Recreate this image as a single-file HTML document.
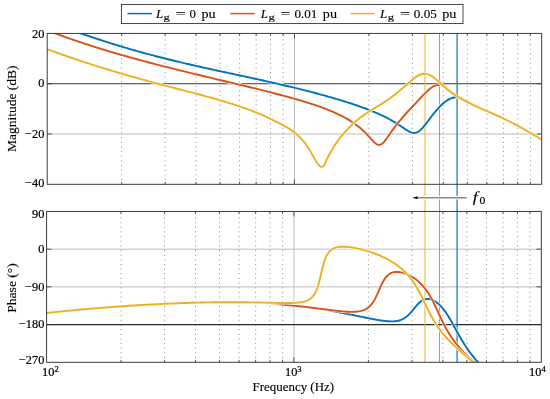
<!DOCTYPE html>
<html lang="en"><head><meta charset="utf-8"><title>Bode plot</title>
<style>html,body{margin:0;padding:0;background:#fff;overflow:hidden}svg{display:block}text{font-family:"Liberation Serif","DejaVu Serif",serif;fill:#000;stroke:#000;stroke-width:0.12px}.tk{stroke-width:0.22px}</style></head><body>
<svg width="550" height="399" viewBox="0 0 550 399">
<rect width="550" height="399" fill="#fff"/>
<defs>
<clipPath id="ct"><rect x="47.20" y="33.40" width="494.50" height="150.90"/></clipPath>
<clipPath id="cb"><rect x="46.60" y="211.45" width="494.70" height="150.85"/></clipPath>
</defs>
<line x1="121.63" y1="33.40" x2="121.63" y2="184.30" stroke="#505050" stroke-width="0.68" stroke-dasharray="1 3.65" stroke-dashoffset="-1.40"/>
<line x1="165.17" y1="33.40" x2="165.17" y2="184.30" stroke="#505050" stroke-width="0.68" stroke-dasharray="1 3.65" stroke-dashoffset="-1.40"/>
<line x1="196.06" y1="33.40" x2="196.06" y2="184.30" stroke="#505050" stroke-width="0.68" stroke-dasharray="1 3.65" stroke-dashoffset="-1.40"/>
<line x1="220.02" y1="33.40" x2="220.02" y2="184.30" stroke="#505050" stroke-width="0.68" stroke-dasharray="1 3.65" stroke-dashoffset="-1.40"/>
<line x1="239.60" y1="33.40" x2="239.60" y2="184.30" stroke="#505050" stroke-width="0.68" stroke-dasharray="1 3.65" stroke-dashoffset="-1.40"/>
<line x1="256.15" y1="33.40" x2="256.15" y2="184.30" stroke="#505050" stroke-width="0.68" stroke-dasharray="1 3.65" stroke-dashoffset="-1.40"/>
<line x1="270.49" y1="33.40" x2="270.49" y2="184.30" stroke="#505050" stroke-width="0.68" stroke-dasharray="1 3.65" stroke-dashoffset="-1.40"/>
<line x1="283.14" y1="33.40" x2="283.14" y2="184.30" stroke="#505050" stroke-width="0.68" stroke-dasharray="1 3.65" stroke-dashoffset="-1.40"/>
<line x1="368.88" y1="33.40" x2="368.88" y2="184.30" stroke="#505050" stroke-width="0.68" stroke-dasharray="1 3.65" stroke-dashoffset="-1.40"/>
<line x1="412.42" y1="33.40" x2="412.42" y2="184.30" stroke="#505050" stroke-width="0.68" stroke-dasharray="1 3.65" stroke-dashoffset="-1.40"/>
<line x1="443.31" y1="33.40" x2="443.31" y2="184.30" stroke="#505050" stroke-width="0.68" stroke-dasharray="1 3.65" stroke-dashoffset="-1.40"/>
<line x1="467.27" y1="33.40" x2="467.27" y2="184.30" stroke="#505050" stroke-width="0.68" stroke-dasharray="1 3.65" stroke-dashoffset="-1.40"/>
<line x1="486.85" y1="33.40" x2="486.85" y2="184.30" stroke="#505050" stroke-width="0.68" stroke-dasharray="1 3.65" stroke-dashoffset="-1.40"/>
<line x1="503.40" y1="33.40" x2="503.40" y2="184.30" stroke="#505050" stroke-width="0.68" stroke-dasharray="1 3.65" stroke-dashoffset="-1.40"/>
<line x1="517.74" y1="33.40" x2="517.74" y2="184.30" stroke="#505050" stroke-width="0.68" stroke-dasharray="1 3.65" stroke-dashoffset="-1.40"/>
<line x1="530.39" y1="33.40" x2="530.39" y2="184.30" stroke="#505050" stroke-width="0.68" stroke-dasharray="1 3.65" stroke-dashoffset="-1.40"/>
<line x1="294.45" y1="33.40" x2="294.45" y2="184.30" stroke="#8a8a8a" stroke-width="0.6"/>
<line x1="47.20" y1="134.00" x2="541.70" y2="134.00" stroke="#bcbcbc" stroke-width="1.0"/>
<line x1="47.20" y1="83.70" x2="541.70" y2="83.70" stroke="#3a3a3a" stroke-width="1.10"/>
<line x1="121.06" y1="211.45" x2="121.06" y2="362.30" stroke="#505050" stroke-width="0.68" stroke-dasharray="1 3.65" stroke-dashoffset="-1.40"/>
<line x1="164.62" y1="211.45" x2="164.62" y2="362.30" stroke="#505050" stroke-width="0.68" stroke-dasharray="1 3.65" stroke-dashoffset="-1.40"/>
<line x1="195.52" y1="211.45" x2="195.52" y2="362.30" stroke="#505050" stroke-width="0.68" stroke-dasharray="1 3.65" stroke-dashoffset="-1.40"/>
<line x1="219.49" y1="211.45" x2="219.49" y2="362.30" stroke="#505050" stroke-width="0.68" stroke-dasharray="1 3.65" stroke-dashoffset="-1.40"/>
<line x1="239.08" y1="211.45" x2="239.08" y2="362.30" stroke="#505050" stroke-width="0.68" stroke-dasharray="1 3.65" stroke-dashoffset="-1.40"/>
<line x1="255.64" y1="211.45" x2="255.64" y2="362.30" stroke="#505050" stroke-width="0.68" stroke-dasharray="1 3.65" stroke-dashoffset="-1.40"/>
<line x1="269.98" y1="211.45" x2="269.98" y2="362.30" stroke="#505050" stroke-width="0.68" stroke-dasharray="1 3.65" stroke-dashoffset="-1.40"/>
<line x1="282.63" y1="211.45" x2="282.63" y2="362.30" stroke="#505050" stroke-width="0.68" stroke-dasharray="1 3.65" stroke-dashoffset="-1.40"/>
<line x1="368.41" y1="211.45" x2="368.41" y2="362.30" stroke="#505050" stroke-width="0.68" stroke-dasharray="1 3.65" stroke-dashoffset="-1.40"/>
<line x1="411.97" y1="211.45" x2="411.97" y2="362.30" stroke="#505050" stroke-width="0.68" stroke-dasharray="1 3.65" stroke-dashoffset="-1.40"/>
<line x1="442.87" y1="211.45" x2="442.87" y2="362.30" stroke="#505050" stroke-width="0.68" stroke-dasharray="1 3.65" stroke-dashoffset="-1.40"/>
<line x1="466.84" y1="211.45" x2="466.84" y2="362.30" stroke="#505050" stroke-width="0.68" stroke-dasharray="1 3.65" stroke-dashoffset="-1.40"/>
<line x1="486.43" y1="211.45" x2="486.43" y2="362.30" stroke="#505050" stroke-width="0.68" stroke-dasharray="1 3.65" stroke-dashoffset="-1.40"/>
<line x1="502.99" y1="211.45" x2="502.99" y2="362.30" stroke="#505050" stroke-width="0.68" stroke-dasharray="1 3.65" stroke-dashoffset="-1.40"/>
<line x1="517.33" y1="211.45" x2="517.33" y2="362.30" stroke="#505050" stroke-width="0.68" stroke-dasharray="1 3.65" stroke-dashoffset="-1.40"/>
<line x1="529.98" y1="211.45" x2="529.98" y2="362.30" stroke="#505050" stroke-width="0.68" stroke-dasharray="1 3.65" stroke-dashoffset="-1.40"/>
<line x1="293.95" y1="211.45" x2="293.95" y2="362.30" stroke="#cdcdcd" stroke-width="1.25"/>
<line x1="46.60" y1="249.16" x2="541.30" y2="249.16" stroke="#bcbcbc" stroke-width="1.0"/>
<line x1="46.60" y1="286.88" x2="541.30" y2="286.88" stroke="#bcbcbc" stroke-width="1.0"/>
<line x1="46.60" y1="324.59" x2="541.30" y2="324.59" stroke="#2a2a2a" stroke-width="1.35"/>
<line x1="425.00" y1="33.40" x2="425.00" y2="362.30" stroke="#EDB120" stroke-width="1.20" stroke-opacity="0.85"/>
<line x1="439.50" y1="33.40" x2="439.50" y2="362.30" stroke="#D95319" stroke-width="0.90" stroke-opacity="0.80"/>
<line x1="457.10" y1="33.40" x2="457.10" y2="362.30" stroke="#0072BD" stroke-width="1.45" stroke-opacity="0.80"/>
<path d="M44.00 20.12L45.00 20.49L46.00 20.85L47.00 21.22L48.00 21.58L49.00 21.95L50.00 22.32L51.00 22.68L52.00 23.05L53.00 23.41L54.00 23.78L55.00 24.14L56.00 24.50L57.00 24.87L58.00 25.23L59.00 25.59L60.00 25.96L61.00 26.32L62.00 26.68L63.00 27.04L64.00 27.40L65.00 27.76L66.00 28.12L67.00 28.48L68.00 28.84L69.00 29.19L70.00 29.55L71.00 29.90L72.00 30.26L73.00 30.61L74.00 30.97L75.00 31.32L76.00 31.67L77.00 32.02L78.00 32.37L79.00 32.72L80.00 33.07L81.00 33.42L82.00 33.76L83.00 34.11L84.00 34.45L85.00 34.80L86.00 35.14L87.00 35.48L88.00 35.82L89.00 36.16L90.00 36.50L91.00 36.83L92.00 37.17L93.00 37.51L94.00 37.84L95.00 38.17L96.00 38.50L97.00 38.84L98.00 39.16L99.00 39.49L100.00 39.82L101.00 40.15L102.00 40.47L103.00 40.80L104.00 41.12L105.00 41.44L106.00 41.76L107.00 42.08L108.00 42.40L109.00 42.71L110.00 43.03L111.00 43.34L112.00 43.66L113.00 43.97L114.00 44.28L115.00 44.59L116.00 44.90L117.00 45.20L118.00 45.51L119.00 45.81L120.00 46.12L121.00 46.42L122.00 46.72L123.00 47.02L124.00 47.32L125.00 47.61L126.00 47.91L127.00 48.20L128.00 48.50L129.00 48.79L130.00 49.08L131.00 49.37L132.00 49.66L133.00 49.94L134.00 50.23L135.00 50.51L136.00 50.80L137.00 51.08L138.00 51.36L139.00 51.64L140.00 51.92L141.00 52.20L142.00 52.47L143.00 52.75L144.00 53.02L145.00 53.30L146.00 53.57L147.00 53.84L148.00 54.11L149.00 54.38L150.00 54.64L151.00 54.91L152.00 55.17L153.00 55.44L154.00 55.70L155.00 55.96L156.00 56.22L157.00 56.48L158.00 56.74L159.00 57.00L160.00 57.25L161.00 57.51L162.00 57.76L163.00 58.02L164.00 58.27L165.00 58.52L166.00 58.77L167.00 59.02L168.00 59.27L169.00 59.52L170.00 59.76L171.00 60.01L172.00 60.25L173.00 60.50L174.00 60.74L175.00 60.98L176.00 61.22L177.00 61.46L178.00 61.70L179.00 61.94L180.00 62.18L181.00 62.41L182.00 62.65L183.00 62.89L184.00 63.12L185.00 63.35L186.00 63.59L187.00 63.82L188.00 64.05L189.00 64.28L190.00 64.51L191.00 64.74L192.00 64.97L193.00 65.20L194.00 65.43L195.00 65.65L196.00 65.88L197.00 66.11L198.00 66.33L199.00 66.55L200.00 66.78L201.00 67.00L202.00 67.23L203.00 67.45L204.00 67.67L205.00 67.89L206.00 68.11L207.00 68.33L208.00 68.55L209.00 68.77L210.00 68.99L211.00 69.21L212.00 69.43L213.00 69.65L214.00 69.87L215.00 70.09L216.00 70.30L217.00 70.52L218.00 70.74L219.00 70.96L220.00 71.17L221.00 71.39L222.00 71.61L223.00 71.82L224.00 72.04L225.00 72.25L226.00 72.47L227.00 72.68L228.00 72.90L229.00 73.11L230.00 73.33L231.00 73.54L232.00 73.76L233.00 73.97L234.00 74.19L235.00 74.40L236.00 74.62L237.00 74.84L238.00 75.05L239.00 75.27L240.00 75.48L241.00 75.70L242.00 75.91L243.00 76.13L244.00 76.34L245.00 76.56L246.00 76.78L247.00 76.99L248.00 77.21L249.00 77.43L250.00 77.64L251.00 77.86L252.00 78.08L253.00 78.30L254.00 78.51L255.00 78.73L256.00 78.95L257.00 79.17L258.00 79.39L259.00 79.61L260.00 79.83L261.00 80.05L262.00 80.27L263.00 80.49L264.00 80.72L265.00 80.94L266.00 81.16L267.00 81.38L268.00 81.61L269.00 81.83L270.00 82.06L271.00 82.28L272.00 82.51L273.00 82.74L274.00 82.96L275.00 83.19L276.00 83.42L277.00 83.65L278.00 83.88L279.00 84.11L280.00 84.34L281.00 84.57L282.00 84.81L283.00 85.04L284.00 85.27L285.00 85.51L286.00 85.74L287.00 85.98L288.00 86.22L289.00 86.46L290.00 86.69L291.00 86.93L292.00 87.18L293.00 87.42L294.00 87.66L295.00 87.90L296.00 88.15L297.00 88.39L298.00 88.64L299.00 88.88L300.00 89.13L301.00 89.38L302.00 89.63L303.00 89.88L304.00 90.13L305.00 90.39L306.00 90.64L307.00 90.90L308.00 91.15L309.00 91.41L310.00 91.67L311.00 91.93L312.00 92.19L313.00 92.45L314.00 92.71L315.00 92.98L316.00 93.24L317.00 93.51L318.00 93.78L319.00 94.05L320.00 94.32L321.00 94.59L322.00 94.87L323.00 95.14L324.00 95.42L325.00 95.69L326.00 95.97L327.00 96.25L328.00 96.54L329.00 96.82L330.00 97.10L331.00 97.39L332.00 97.68L333.00 97.97L334.00 98.26L335.00 98.55L336.00 98.85L337.00 99.15L338.00 99.44L339.00 99.74L340.00 100.05L341.00 100.35L342.00 100.66L343.00 100.97L344.00 101.28L345.00 101.59L346.00 101.90L347.00 102.22L348.00 102.54L349.00 102.86L350.00 103.18L351.00 103.51L352.00 103.84L353.00 104.17L354.00 104.50L355.00 104.84L356.00 105.18L357.00 105.52L358.00 105.87L359.00 106.22L360.00 106.57L361.00 106.93L362.00 107.28L363.00 107.65L364.00 108.01L365.00 108.38L366.00 108.76L367.00 109.14L368.00 109.52L369.00 109.91L370.00 110.30L371.00 110.70L372.00 111.10L373.00 111.51L374.00 111.92L375.00 112.34L376.00 112.76L377.00 113.19L378.00 113.63L379.00 114.08L380.00 114.53L381.00 114.99L382.00 115.45L383.00 115.93L384.00 116.41L385.00 116.91L386.00 117.41L387.00 117.92L388.00 118.44L389.00 118.98L390.00 119.52L391.00 120.07L392.00 120.64L393.00 121.22L394.00 121.81L395.00 122.41L396.00 123.03L397.00 123.65L398.00 124.29L399.00 124.94L400.00 125.60L401.00 126.27L402.00 126.94L403.00 127.62L404.00 128.30L405.00 128.96L406.00 129.62L407.00 130.25L408.00 130.86L409.00 131.41L410.00 131.91L411.00 132.33L412.00 132.66L413.00 132.88L414.00 132.97L415.00 132.92L416.00 132.72L417.00 132.36L418.00 131.84L419.00 131.18L420.00 130.38L421.00 129.45L422.00 128.43L423.00 127.31L424.00 126.13L425.00 124.90L426.00 123.63L427.00 122.33L428.00 121.02L429.00 119.71L430.00 118.39L431.00 117.09L432.00 115.79L433.00 114.52L434.00 113.26L435.00 112.03L436.00 110.83L437.00 109.67L438.00 108.54L439.00 107.45L440.00 106.40L441.00 105.40L442.00 104.45L443.00 103.54L444.00 102.70L445.00 101.91L446.00 101.18L447.00 100.51L448.00 99.91L449.00 99.36L450.00 98.87L451.00 98.45L452.00 98.08L453.00 97.76L454.00 97.50L455.00 97.28L456.00 97.11L457.00 96.97L457.10 96.96" fill="none" stroke="#fff" stroke-width="3.00" stroke-linejoin="round" clip-path="url(#ct)"/>
<path d="M44.00 20.12L45.00 20.49L46.00 20.85L47.00 21.22L48.00 21.58L49.00 21.95L50.00 22.32L51.00 22.68L52.00 23.05L53.00 23.41L54.00 23.78L55.00 24.14L56.00 24.50L57.00 24.87L58.00 25.23L59.00 25.59L60.00 25.96L61.00 26.32L62.00 26.68L63.00 27.04L64.00 27.40L65.00 27.76L66.00 28.12L67.00 28.48L68.00 28.84L69.00 29.19L70.00 29.55L71.00 29.90L72.00 30.26L73.00 30.61L74.00 30.97L75.00 31.32L76.00 31.67L77.00 32.02L78.00 32.37L79.00 32.72L80.00 33.07L81.00 33.42L82.00 33.76L83.00 34.11L84.00 34.45L85.00 34.80L86.00 35.14L87.00 35.48L88.00 35.82L89.00 36.16L90.00 36.50L91.00 36.83L92.00 37.17L93.00 37.51L94.00 37.84L95.00 38.17L96.00 38.50L97.00 38.84L98.00 39.16L99.00 39.49L100.00 39.82L101.00 40.15L102.00 40.47L103.00 40.80L104.00 41.12L105.00 41.44L106.00 41.76L107.00 42.08L108.00 42.40L109.00 42.71L110.00 43.03L111.00 43.34L112.00 43.66L113.00 43.97L114.00 44.28L115.00 44.59L116.00 44.90L117.00 45.20L118.00 45.51L119.00 45.81L120.00 46.12L121.00 46.42L122.00 46.72L123.00 47.02L124.00 47.32L125.00 47.61L126.00 47.91L127.00 48.20L128.00 48.50L129.00 48.79L130.00 49.08L131.00 49.37L132.00 49.66L133.00 49.94L134.00 50.23L135.00 50.51L136.00 50.80L137.00 51.08L138.00 51.36L139.00 51.64L140.00 51.92L141.00 52.20L142.00 52.47L143.00 52.75L144.00 53.02L145.00 53.30L146.00 53.57L147.00 53.84L148.00 54.11L149.00 54.38L150.00 54.64L151.00 54.91L152.00 55.17L153.00 55.44L154.00 55.70L155.00 55.96L156.00 56.22L157.00 56.48L158.00 56.74L159.00 57.00L160.00 57.25L161.00 57.51L162.00 57.76L163.00 58.02L164.00 58.27L165.00 58.52L166.00 58.77L167.00 59.02L168.00 59.27L169.00 59.52L170.00 59.76L171.00 60.01L172.00 60.25L173.00 60.50L174.00 60.74L175.00 60.98L176.00 61.22L177.00 61.46L178.00 61.70L179.00 61.94L180.00 62.18L181.00 62.41L182.00 62.65L183.00 62.89L184.00 63.12L185.00 63.35L186.00 63.59L187.00 63.82L188.00 64.05L189.00 64.28L190.00 64.51L191.00 64.74L192.00 64.97L193.00 65.20L194.00 65.43L195.00 65.65L196.00 65.88L197.00 66.11L198.00 66.33L199.00 66.55L200.00 66.78L201.00 67.00L202.00 67.23L203.00 67.45L204.00 67.67L205.00 67.89L206.00 68.11L207.00 68.33L208.00 68.55L209.00 68.77L210.00 68.99L211.00 69.21L212.00 69.43L213.00 69.65L214.00 69.87L215.00 70.09L216.00 70.30L217.00 70.52L218.00 70.74L219.00 70.96L220.00 71.17L221.00 71.39L222.00 71.61L223.00 71.82L224.00 72.04L225.00 72.25L226.00 72.47L227.00 72.68L228.00 72.90L229.00 73.11L230.00 73.33L231.00 73.54L232.00 73.76L233.00 73.97L234.00 74.19L235.00 74.40L236.00 74.62L237.00 74.84L238.00 75.05L239.00 75.27L240.00 75.48L241.00 75.70L242.00 75.91L243.00 76.13L244.00 76.34L245.00 76.56L246.00 76.78L247.00 76.99L248.00 77.21L249.00 77.43L250.00 77.64L251.00 77.86L252.00 78.08L253.00 78.30L254.00 78.51L255.00 78.73L256.00 78.95L257.00 79.17L258.00 79.39L259.00 79.61L260.00 79.83L261.00 80.05L262.00 80.27L263.00 80.49L264.00 80.72L265.00 80.94L266.00 81.16L267.00 81.38L268.00 81.61L269.00 81.83L270.00 82.06L271.00 82.28L272.00 82.51L273.00 82.74L274.00 82.96L275.00 83.19L276.00 83.42L277.00 83.65L278.00 83.88L279.00 84.11L280.00 84.34L281.00 84.57L282.00 84.81L283.00 85.04L284.00 85.27L285.00 85.51L286.00 85.74L287.00 85.98L288.00 86.22L289.00 86.46L290.00 86.69L291.00 86.93L292.00 87.18L293.00 87.42L294.00 87.66L295.00 87.90L296.00 88.15L297.00 88.39L298.00 88.64L299.00 88.88L300.00 89.13L301.00 89.38L302.00 89.63L303.00 89.88L304.00 90.13L305.00 90.39L306.00 90.64L307.00 90.90L308.00 91.15L309.00 91.41L310.00 91.67L311.00 91.93L312.00 92.19L313.00 92.45L314.00 92.71L315.00 92.98L316.00 93.24L317.00 93.51L318.00 93.78L319.00 94.05L320.00 94.32L321.00 94.59L322.00 94.87L323.00 95.14L324.00 95.42L325.00 95.69L326.00 95.97L327.00 96.25L328.00 96.54L329.00 96.82L330.00 97.10L331.00 97.39L332.00 97.68L333.00 97.97L334.00 98.26L335.00 98.55L336.00 98.85L337.00 99.15L338.00 99.44L339.00 99.74L340.00 100.05L341.00 100.35L342.00 100.66L343.00 100.97L344.00 101.28L345.00 101.59L346.00 101.90L347.00 102.22L348.00 102.54L349.00 102.86L350.00 103.18L351.00 103.51L352.00 103.84L353.00 104.17L354.00 104.50L355.00 104.84L356.00 105.18L357.00 105.52L358.00 105.87L359.00 106.22L360.00 106.57L361.00 106.93L362.00 107.28L363.00 107.65L364.00 108.01L365.00 108.38L366.00 108.76L367.00 109.14L368.00 109.52L369.00 109.91L370.00 110.30L371.00 110.70L372.00 111.10L373.00 111.51L374.00 111.92L375.00 112.34L376.00 112.76L377.00 113.19L378.00 113.63L379.00 114.08L380.00 114.53L381.00 114.99L382.00 115.45L383.00 115.93L384.00 116.41L385.00 116.91L386.00 117.41L387.00 117.92L388.00 118.44L389.00 118.98L390.00 119.52L391.00 120.07L392.00 120.64L393.00 121.22L394.00 121.81L395.00 122.41L396.00 123.03L397.00 123.65L398.00 124.29L399.00 124.94L400.00 125.60L401.00 126.27L402.00 126.94L403.00 127.62L404.00 128.30L405.00 128.96L406.00 129.62L407.00 130.25L408.00 130.86L409.00 131.41L410.00 131.91L411.00 132.33L412.00 132.66L413.00 132.88L414.00 132.97L415.00 132.92L416.00 132.72L417.00 132.36L418.00 131.84L419.00 131.18L420.00 130.38L421.00 129.45L422.00 128.43L423.00 127.31L424.00 126.13L425.00 124.90L426.00 123.63L427.00 122.33L428.00 121.02L429.00 119.71L430.00 118.39L431.00 117.09L432.00 115.79L433.00 114.52L434.00 113.26L435.00 112.03L436.00 110.83L437.00 109.67L438.00 108.54L439.00 107.45L440.00 106.40L441.00 105.40L442.00 104.45L443.00 103.54L444.00 102.70L445.00 101.91L446.00 101.18L447.00 100.51L448.00 99.91L449.00 99.36L450.00 98.87L451.00 98.45L452.00 98.08L453.00 97.76L454.00 97.50L455.00 97.28L456.00 97.11L457.00 96.97L457.10 96.96" fill="none" stroke="#0072BD" stroke-width="1.90" stroke-linejoin="round" clip-path="url(#ct)"/>
<path d="M44.00 313.32L45.00 313.20L46.00 313.09L47.00 312.98L48.00 312.87L49.00 312.75L50.00 312.64L51.00 312.53L52.00 312.43L53.00 312.32L54.00 312.21L55.00 312.10L56.00 312.00L57.00 311.89L58.00 311.79L59.00 311.68L60.00 311.58L61.00 311.47L62.00 311.37L63.00 311.27L64.00 311.17L65.00 311.07L66.00 310.97L67.00 310.87L68.00 310.77L69.00 310.67L70.00 310.58L71.00 310.48L72.00 310.39L73.00 310.29L74.00 310.19L75.00 310.10L76.00 310.01L77.00 309.91L78.00 309.82L79.00 309.73L80.00 309.64L81.00 309.55L82.00 309.46L83.00 309.37L84.00 309.28L85.00 309.19L86.00 309.10L87.00 309.02L88.00 308.93L89.00 308.84L90.00 308.76L91.00 308.67L92.00 308.59L93.00 308.50L94.00 308.42L95.00 308.34L96.00 308.26L97.00 308.17L98.00 308.09L99.00 308.01L100.00 307.93L101.00 307.85L102.00 307.77L103.00 307.69L104.00 307.62L105.00 307.54L106.00 307.46L107.00 307.38L108.00 307.31L109.00 307.23L110.00 307.16L111.00 307.08L112.00 307.01L113.00 306.93L114.00 306.86L115.00 306.79L116.00 306.72L117.00 306.64L118.00 306.57L119.00 306.50L120.00 306.43L121.00 306.36L122.00 306.29L123.00 306.22L124.00 306.16L125.00 306.09L126.00 306.02L127.00 305.96L128.00 305.89L129.00 305.82L130.00 305.76L131.00 305.69L132.00 305.63L133.00 305.57L134.00 305.50L135.00 305.44L136.00 305.38L137.00 305.32L138.00 305.25L139.00 305.19L140.00 305.13L141.00 305.07L142.00 305.01L143.00 304.96L144.00 304.90L145.00 304.84L146.00 304.78L147.00 304.73L148.00 304.67L149.00 304.62L150.00 304.56L151.00 304.51L152.00 304.45L153.00 304.40L154.00 304.35L155.00 304.29L156.00 304.24L157.00 304.19L158.00 304.14L159.00 304.09L160.00 304.04L161.00 303.99L162.00 303.94L163.00 303.90L164.00 303.85L165.00 303.80L166.00 303.76L167.00 303.71L168.00 303.66L169.00 303.62L170.00 303.58L171.00 303.53L172.00 303.49L173.00 303.45L174.00 303.41L175.00 303.37L176.00 303.33L177.00 303.29L178.00 303.25L179.00 303.21L180.00 303.17L181.00 303.13L182.00 303.10L183.00 303.06L184.00 303.03L185.00 302.99L186.00 302.96L187.00 302.93L188.00 302.89L189.00 302.86L190.00 302.83L191.00 302.80L192.00 302.77L193.00 302.74L194.00 302.71L195.00 302.68L196.00 302.66L197.00 302.63L198.00 302.60L199.00 302.58L200.00 302.56L201.00 302.53L202.00 302.51L203.00 302.49L204.00 302.47L205.00 302.44L206.00 302.42L207.00 302.41L208.00 302.39L209.00 302.37L210.00 302.35L211.00 302.34L212.00 302.32L213.00 302.31L214.00 302.29L215.00 302.28L216.00 302.27L217.00 302.26L218.00 302.25L219.00 302.24L220.00 302.23L221.00 302.22L222.00 302.21L223.00 302.21L224.00 302.20L225.00 302.20L226.00 302.19L227.00 302.19L228.00 302.19L229.00 302.18L230.00 302.18L231.00 302.18L232.00 302.18L233.00 302.19L234.00 302.19L235.00 302.19L236.00 302.20L237.00 302.20L238.00 302.21L239.00 302.21L240.00 302.22L241.00 302.23L242.00 302.24L243.00 302.25L244.00 302.26L245.00 302.27L246.00 302.28L247.00 302.30L248.00 302.31L249.00 302.33L250.00 302.34L251.00 302.36L252.00 302.37L253.00 302.39L254.00 302.41L255.00 302.43L256.00 302.45L257.00 302.47L258.00 302.49L259.00 302.51L260.00 302.53L261.00 302.55L262.00 302.58L263.00 302.60L264.00 302.63L265.00 302.68L266.00 302.72L267.00 302.78L268.00 302.85L269.00 302.92L270.00 303.00L271.00 303.09L272.00 303.19L273.00 303.30L274.00 303.41L275.00 303.53L276.00 303.66L277.00 303.79L278.00 303.93L279.00 304.06L280.00 304.20L281.00 304.34L282.00 304.48L283.00 304.61L284.00 304.74L285.00 304.85L286.00 304.95L287.00 305.04L288.00 305.13L289.00 305.23L290.00 305.32L291.00 305.42L292.00 305.51L293.00 305.61L294.00 305.71L295.00 305.82L296.00 305.92L297.00 306.02L298.00 306.13L299.00 306.23L300.00 306.34L301.00 306.45L302.00 306.56L303.00 306.67L304.00 306.78L305.00 306.90L306.00 307.01L307.00 307.13L308.00 307.24L309.00 307.36L310.00 307.48L311.00 307.60L312.00 307.72L313.00 307.84L314.00 307.97L315.00 308.09L316.00 308.21L317.00 308.34L318.00 308.46L319.00 308.59L320.00 308.73L321.00 308.87L322.00 309.02L323.00 309.18L324.00 309.35L325.00 309.52L326.00 309.71L327.00 309.90L328.00 310.10L329.00 310.31L330.00 310.52L331.00 310.74L332.00 310.95L333.00 311.17L334.00 311.38L335.00 311.58L336.00 311.77L337.00 311.95L338.00 312.14L339.00 312.32L340.00 312.51L341.00 312.70L342.00 312.88L343.00 313.08L344.00 313.27L345.00 313.46L346.00 313.65L347.00 313.85L348.00 314.05L349.00 314.25L350.00 314.44L351.00 314.64L352.00 314.84L353.00 315.05L354.00 315.25L355.00 315.45L356.00 315.66L357.00 315.86L358.00 316.06L359.00 316.27L360.00 316.48L361.00 316.68L362.00 316.89L363.00 317.09L364.00 317.30L365.00 317.50L366.00 317.70L367.00 317.90L368.00 318.11L369.00 318.31L370.00 318.50L371.00 318.70L372.00 318.89L373.00 319.08L374.00 319.27L375.00 319.46L376.00 319.64L377.00 319.82L378.00 319.99L379.00 320.15L380.00 320.31L381.00 320.47L382.00 320.61L383.00 320.75L384.00 320.87L385.00 320.99L386.00 321.10L387.00 321.19L388.00 321.26L389.00 321.32L390.00 321.37L391.00 321.39L392.00 321.39L393.00 321.36L394.00 321.31L395.00 321.23L396.00 321.11L397.00 320.95L398.00 320.76L399.00 320.51L400.00 320.22L401.00 319.86L402.00 319.45L403.00 318.97L404.00 318.41L405.00 317.78L406.00 317.07L407.00 316.27L408.00 315.39L409.00 314.42L410.00 313.38L411.00 312.26L412.00 311.09L413.00 309.89L414.00 308.66L415.00 307.43L416.00 306.24L417.00 305.09L418.00 304.01L419.00 303.02L420.00 302.12L421.00 301.34L422.00 300.66L423.00 300.10L424.00 299.66L425.00 299.32L426.00 299.10L427.00 298.97L428.00 298.95L429.00 299.02L430.00 299.19L431.00 299.44L432.00 299.78L433.00 300.20L434.00 300.71L435.00 301.29L436.00 301.95L437.00 302.68L438.00 303.50L439.00 304.39L440.00 305.35L441.00 306.39L442.00 307.51L443.00 308.71L444.00 309.98L445.00 311.32L446.00 312.74L447.00 314.23L448.00 315.78L449.00 317.40L450.00 319.07L451.00 320.80L452.00 322.56L453.00 324.36L454.00 326.18L455.00 328.01L456.00 329.84L457.00 331.67L458.00 333.48L459.00 335.27L460.00 337.03L461.00 338.76L462.00 340.44L463.00 342.09L464.00 343.69L465.00 345.25L466.00 346.77L467.00 348.25L468.00 349.69L469.00 351.09L470.00 352.45L471.00 353.78L472.00 355.08L473.00 356.34L474.00 357.58L475.00 358.80L476.00 359.99L477.00 361.17L478.00 362.32L479.00 363.46L480.00 364.58L481.00 365.69L482.00 366.78L483.00 367.86L484.00 368.94L485.00 370.01L486.00 371.06L487.00 372.12L488.00 373.16L489.00 374.21" fill="none" stroke="#fff" stroke-width="3.00" stroke-linejoin="round" clip-path="url(#cb)"/>
<path d="M44.00 313.32L45.00 313.20L46.00 313.09L47.00 312.98L48.00 312.87L49.00 312.75L50.00 312.64L51.00 312.53L52.00 312.43L53.00 312.32L54.00 312.21L55.00 312.10L56.00 312.00L57.00 311.89L58.00 311.79L59.00 311.68L60.00 311.58L61.00 311.47L62.00 311.37L63.00 311.27L64.00 311.17L65.00 311.07L66.00 310.97L67.00 310.87L68.00 310.77L69.00 310.67L70.00 310.58L71.00 310.48L72.00 310.39L73.00 310.29L74.00 310.19L75.00 310.10L76.00 310.01L77.00 309.91L78.00 309.82L79.00 309.73L80.00 309.64L81.00 309.55L82.00 309.46L83.00 309.37L84.00 309.28L85.00 309.19L86.00 309.10L87.00 309.02L88.00 308.93L89.00 308.84L90.00 308.76L91.00 308.67L92.00 308.59L93.00 308.50L94.00 308.42L95.00 308.34L96.00 308.26L97.00 308.17L98.00 308.09L99.00 308.01L100.00 307.93L101.00 307.85L102.00 307.77L103.00 307.69L104.00 307.62L105.00 307.54L106.00 307.46L107.00 307.38L108.00 307.31L109.00 307.23L110.00 307.16L111.00 307.08L112.00 307.01L113.00 306.93L114.00 306.86L115.00 306.79L116.00 306.72L117.00 306.64L118.00 306.57L119.00 306.50L120.00 306.43L121.00 306.36L122.00 306.29L123.00 306.22L124.00 306.16L125.00 306.09L126.00 306.02L127.00 305.96L128.00 305.89L129.00 305.82L130.00 305.76L131.00 305.69L132.00 305.63L133.00 305.57L134.00 305.50L135.00 305.44L136.00 305.38L137.00 305.32L138.00 305.25L139.00 305.19L140.00 305.13L141.00 305.07L142.00 305.01L143.00 304.96L144.00 304.90L145.00 304.84L146.00 304.78L147.00 304.73L148.00 304.67L149.00 304.62L150.00 304.56L151.00 304.51L152.00 304.45L153.00 304.40L154.00 304.35L155.00 304.29L156.00 304.24L157.00 304.19L158.00 304.14L159.00 304.09L160.00 304.04L161.00 303.99L162.00 303.94L163.00 303.90L164.00 303.85L165.00 303.80L166.00 303.76L167.00 303.71L168.00 303.66L169.00 303.62L170.00 303.58L171.00 303.53L172.00 303.49L173.00 303.45L174.00 303.41L175.00 303.37L176.00 303.33L177.00 303.29L178.00 303.25L179.00 303.21L180.00 303.17L181.00 303.13L182.00 303.10L183.00 303.06L184.00 303.03L185.00 302.99L186.00 302.96L187.00 302.93L188.00 302.89L189.00 302.86L190.00 302.83L191.00 302.80L192.00 302.77L193.00 302.74L194.00 302.71L195.00 302.68L196.00 302.66L197.00 302.63L198.00 302.60L199.00 302.58L200.00 302.56L201.00 302.53L202.00 302.51L203.00 302.49L204.00 302.47L205.00 302.44L206.00 302.42L207.00 302.41L208.00 302.39L209.00 302.37L210.00 302.35L211.00 302.34L212.00 302.32L213.00 302.31L214.00 302.29L215.00 302.28L216.00 302.27L217.00 302.26L218.00 302.25L219.00 302.24L220.00 302.23L221.00 302.22L222.00 302.21L223.00 302.21L224.00 302.20L225.00 302.20L226.00 302.19L227.00 302.19L228.00 302.19L229.00 302.18L230.00 302.18L231.00 302.18L232.00 302.18L233.00 302.19L234.00 302.19L235.00 302.19L236.00 302.20L237.00 302.20L238.00 302.21L239.00 302.21L240.00 302.22L241.00 302.23L242.00 302.24L243.00 302.25L244.00 302.26L245.00 302.27L246.00 302.28L247.00 302.30L248.00 302.31L249.00 302.33L250.00 302.34L251.00 302.36L252.00 302.37L253.00 302.39L254.00 302.41L255.00 302.43L256.00 302.45L257.00 302.47L258.00 302.49L259.00 302.51L260.00 302.53L261.00 302.55L262.00 302.58L263.00 302.60L264.00 302.63L265.00 302.68L266.00 302.72L267.00 302.78L268.00 302.85L269.00 302.92L270.00 303.00L271.00 303.09L272.00 303.19L273.00 303.30L274.00 303.41L275.00 303.53L276.00 303.66L277.00 303.79L278.00 303.93L279.00 304.06L280.00 304.20L281.00 304.34L282.00 304.48L283.00 304.61L284.00 304.74L285.00 304.85L286.00 304.95L287.00 305.04L288.00 305.13L289.00 305.23L290.00 305.32L291.00 305.42L292.00 305.51L293.00 305.61L294.00 305.71L295.00 305.82L296.00 305.92L297.00 306.02L298.00 306.13L299.00 306.23L300.00 306.34L301.00 306.45L302.00 306.56L303.00 306.67L304.00 306.78L305.00 306.90L306.00 307.01L307.00 307.13L308.00 307.24L309.00 307.36L310.00 307.48L311.00 307.60L312.00 307.72L313.00 307.84L314.00 307.97L315.00 308.09L316.00 308.21L317.00 308.34L318.00 308.46L319.00 308.59L320.00 308.73L321.00 308.87L322.00 309.02L323.00 309.18L324.00 309.35L325.00 309.52L326.00 309.71L327.00 309.90L328.00 310.10L329.00 310.31L330.00 310.52L331.00 310.74L332.00 310.95L333.00 311.17L334.00 311.38L335.00 311.58L336.00 311.77L337.00 311.95L338.00 312.14L339.00 312.32L340.00 312.51L341.00 312.70L342.00 312.88L343.00 313.08L344.00 313.27L345.00 313.46L346.00 313.65L347.00 313.85L348.00 314.05L349.00 314.25L350.00 314.44L351.00 314.64L352.00 314.84L353.00 315.05L354.00 315.25L355.00 315.45L356.00 315.66L357.00 315.86L358.00 316.06L359.00 316.27L360.00 316.48L361.00 316.68L362.00 316.89L363.00 317.09L364.00 317.30L365.00 317.50L366.00 317.70L367.00 317.90L368.00 318.11L369.00 318.31L370.00 318.50L371.00 318.70L372.00 318.89L373.00 319.08L374.00 319.27L375.00 319.46L376.00 319.64L377.00 319.82L378.00 319.99L379.00 320.15L380.00 320.31L381.00 320.47L382.00 320.61L383.00 320.75L384.00 320.87L385.00 320.99L386.00 321.10L387.00 321.19L388.00 321.26L389.00 321.32L390.00 321.37L391.00 321.39L392.00 321.39L393.00 321.36L394.00 321.31L395.00 321.23L396.00 321.11L397.00 320.95L398.00 320.76L399.00 320.51L400.00 320.22L401.00 319.86L402.00 319.45L403.00 318.97L404.00 318.41L405.00 317.78L406.00 317.07L407.00 316.27L408.00 315.39L409.00 314.42L410.00 313.38L411.00 312.26L412.00 311.09L413.00 309.89L414.00 308.66L415.00 307.43L416.00 306.24L417.00 305.09L418.00 304.01L419.00 303.02L420.00 302.12L421.00 301.34L422.00 300.66L423.00 300.10L424.00 299.66L425.00 299.32L426.00 299.10L427.00 298.97L428.00 298.95L429.00 299.02L430.00 299.19L431.00 299.44L432.00 299.78L433.00 300.20L434.00 300.71L435.00 301.29L436.00 301.95L437.00 302.68L438.00 303.50L439.00 304.39L440.00 305.35L441.00 306.39L442.00 307.51L443.00 308.71L444.00 309.98L445.00 311.32L446.00 312.74L447.00 314.23L448.00 315.78L449.00 317.40L450.00 319.07L451.00 320.80L452.00 322.56L453.00 324.36L454.00 326.18L455.00 328.01L456.00 329.84L457.00 331.67L458.00 333.48L459.00 335.27L460.00 337.03L461.00 338.76L462.00 340.44L463.00 342.09L464.00 343.69L465.00 345.25L466.00 346.77L467.00 348.25L468.00 349.69L469.00 351.09L470.00 352.45L471.00 353.78L472.00 355.08L473.00 356.34L474.00 357.58L475.00 358.80L476.00 359.99L477.00 361.17L478.00 362.32L479.00 363.46L480.00 364.58L481.00 365.69L482.00 366.78L483.00 367.86L484.00 368.94L485.00 370.01L486.00 371.06L487.00 372.12L488.00 373.16L489.00 374.21" fill="none" stroke="#0072BD" stroke-width="1.90" stroke-linejoin="round" clip-path="url(#cb)"/>
<path d="M44.00 29.09L45.00 29.48L46.00 29.87L47.00 30.26L48.00 30.65L49.00 31.03L50.00 31.42L51.00 31.80L52.00 32.18L53.00 32.55L54.00 32.93L55.00 33.30L56.00 33.68L57.00 34.05L58.00 34.42L59.00 34.78L60.00 35.15L61.00 35.51L62.00 35.88L63.00 36.24L64.00 36.60L65.00 36.95L66.00 37.31L67.00 37.66L68.00 38.02L69.00 38.37L70.00 38.72L71.00 39.07L72.00 39.41L73.00 39.76L74.00 40.10L75.00 40.44L76.00 40.78L77.00 41.12L78.00 41.46L79.00 41.80L80.00 42.13L81.00 42.47L82.00 42.80L83.00 43.13L84.00 43.46L85.00 43.79L86.00 44.11L87.00 44.44L88.00 44.76L89.00 45.08L90.00 45.41L91.00 45.73L92.00 46.05L93.00 46.36L94.00 46.68L95.00 47.00L96.00 47.31L97.00 47.62L98.00 47.93L99.00 48.24L100.00 48.55L101.00 48.86L102.00 49.17L103.00 49.47L104.00 49.78L105.00 50.08L106.00 50.39L107.00 50.69L108.00 50.99L109.00 51.29L110.00 51.58L111.00 51.88L112.00 52.18L113.00 52.47L114.00 52.77L115.00 53.06L116.00 53.35L117.00 53.64L118.00 53.93L119.00 54.22L120.00 54.51L121.00 54.80L122.00 55.08L123.00 55.37L124.00 55.65L125.00 55.94L126.00 56.22L127.00 56.50L128.00 56.78L129.00 57.06L130.00 57.34L131.00 57.62L132.00 57.90L133.00 58.17L134.00 58.45L135.00 58.72L136.00 59.00L137.00 59.27L138.00 59.54L139.00 59.82L140.00 60.09L141.00 60.36L142.00 60.63L143.00 60.89L144.00 61.16L145.00 61.43L146.00 61.70L147.00 61.96L148.00 62.23L149.00 62.49L150.00 62.76L151.00 63.02L152.00 63.28L153.00 63.54L154.00 63.80L155.00 64.06L156.00 64.32L157.00 64.58L158.00 64.84L159.00 65.10L160.00 65.36L161.00 65.61L162.00 65.87L163.00 66.13L164.00 66.38L165.00 66.64L166.00 66.89L167.00 67.14L168.00 67.40L169.00 67.65L170.00 67.90L171.00 68.15L172.00 68.40L173.00 68.65L174.00 68.90L175.00 69.15L176.00 69.40L177.00 69.65L178.00 69.90L179.00 70.15L180.00 70.39L181.00 70.64L182.00 70.89L183.00 71.13L184.00 71.38L185.00 71.62L186.00 71.87L187.00 72.11L188.00 72.36L189.00 72.60L190.00 72.84L191.00 73.09L192.00 73.33L193.00 73.57L194.00 73.82L195.00 74.06L196.00 74.30L197.00 74.54L198.00 74.78L199.00 75.02L200.00 75.26L201.00 75.50L202.00 75.75L203.00 75.99L204.00 76.23L205.00 76.46L206.00 76.70L207.00 76.94L208.00 77.18L209.00 77.42L210.00 77.66L211.00 77.90L212.00 78.14L213.00 78.38L214.00 78.61L215.00 78.85L216.00 79.09L217.00 79.33L218.00 79.57L219.00 79.81L220.00 80.04L221.00 80.28L222.00 80.52L223.00 80.76L224.00 80.99L225.00 81.23L226.00 81.47L227.00 81.71L228.00 81.95L229.00 82.18L230.00 82.42L231.00 82.66L232.00 82.90L233.00 83.14L234.00 83.38L235.00 83.61L236.00 83.85L237.00 84.09L238.00 84.33L239.00 84.57L240.00 84.81L241.00 85.05L242.00 85.29L243.00 85.53L244.00 85.77L245.00 86.01L246.00 86.25L247.00 86.50L248.00 86.74L249.00 86.98L250.00 87.22L251.00 87.47L252.00 87.71L253.00 87.95L254.00 88.20L255.00 88.44L256.00 88.69L257.00 88.93L258.00 89.18L259.00 89.43L260.00 89.67L261.00 89.92L262.00 90.17L263.00 90.42L264.00 90.67L265.00 90.92L266.00 91.17L267.00 91.42L268.00 91.67L269.00 91.93L270.00 92.18L271.00 92.44L272.00 92.69L273.00 92.95L274.00 93.21L275.00 93.47L276.00 93.73L277.00 93.99L278.00 94.25L279.00 94.51L280.00 94.78L281.00 95.04L282.00 95.31L283.00 95.57L284.00 95.84L285.00 96.11L286.00 96.38L287.00 96.66L288.00 96.93L289.00 97.21L290.00 97.48L291.00 97.76L292.00 98.04L293.00 98.33L294.00 98.61L295.00 98.89L296.00 99.18L297.00 99.47L298.00 99.76L299.00 100.06L300.00 100.35L301.00 100.65L302.00 100.95L303.00 101.25L304.00 101.56L305.00 101.86L306.00 102.17L307.00 102.48L308.00 102.80L309.00 103.12L310.00 103.44L311.00 103.76L312.00 104.09L313.00 104.42L314.00 104.75L315.00 105.09L316.00 105.43L317.00 105.77L318.00 106.12L319.00 106.47L320.00 106.83L321.00 107.19L322.00 107.55L323.00 107.92L324.00 108.30L325.00 108.68L326.00 109.06L327.00 109.45L328.00 109.85L329.00 110.25L330.00 110.66L331.00 111.07L332.00 111.49L333.00 111.92L334.00 112.35L335.00 112.80L336.00 113.25L337.00 113.71L338.00 114.17L339.00 114.65L340.00 115.14L341.00 115.63L342.00 116.14L343.00 116.66L344.00 117.19L345.00 117.73L346.00 118.28L347.00 118.85L348.00 119.43L349.00 120.03L350.00 120.64L351.00 121.27L352.00 121.92L353.00 122.58L354.00 123.26L355.00 123.97L356.00 124.70L357.00 125.45L358.00 126.22L359.00 127.02L360.00 127.85L361.00 128.70L362.00 129.58L363.00 130.49L364.00 131.44L365.00 132.41L366.00 133.42L367.00 134.45L368.00 135.51L369.00 136.59L370.00 137.69L371.00 138.80L372.00 139.89L373.00 140.96L374.00 141.98L375.00 142.90L376.00 143.70L377.00 144.33L378.00 144.74L379.00 144.90L380.00 144.79L381.00 144.41L382.00 143.76L383.00 142.89L384.00 141.83L385.00 140.63L386.00 139.32L387.00 137.95L388.00 136.54L389.00 135.11L390.00 133.68L391.00 132.26L392.00 130.86L393.00 129.47L394.00 128.12L395.00 126.78L396.00 125.48L397.00 124.20L398.00 122.94L399.00 121.70L400.00 120.49L401.00 119.30L402.00 118.13L403.00 116.97L404.00 115.83L405.00 114.70L406.00 113.59L407.00 112.48L408.00 111.39L409.00 110.30L410.00 109.22L411.00 108.14L412.00 107.07L413.00 106.00L414.00 104.93L415.00 103.87L416.00 102.80L417.00 101.74L418.00 100.68L419.00 99.62L420.00 98.56L421.00 97.50L422.00 96.45L423.00 95.40L424.00 94.37L425.00 93.35L426.00 92.35L427.00 91.38L428.00 90.44L429.00 89.54L430.00 88.69L431.00 87.91L432.00 87.20L433.00 86.57L434.00 86.05L435.00 85.63L436.00 85.33L437.00 85.16L438.00 85.10L439.00 85.17L439.50 85.24" fill="none" stroke="#fff" stroke-width="3.00" stroke-linejoin="round" clip-path="url(#ct)"/>
<path d="M44.00 29.09L45.00 29.48L46.00 29.87L47.00 30.26L48.00 30.65L49.00 31.03L50.00 31.42L51.00 31.80L52.00 32.18L53.00 32.55L54.00 32.93L55.00 33.30L56.00 33.68L57.00 34.05L58.00 34.42L59.00 34.78L60.00 35.15L61.00 35.51L62.00 35.88L63.00 36.24L64.00 36.60L65.00 36.95L66.00 37.31L67.00 37.66L68.00 38.02L69.00 38.37L70.00 38.72L71.00 39.07L72.00 39.41L73.00 39.76L74.00 40.10L75.00 40.44L76.00 40.78L77.00 41.12L78.00 41.46L79.00 41.80L80.00 42.13L81.00 42.47L82.00 42.80L83.00 43.13L84.00 43.46L85.00 43.79L86.00 44.11L87.00 44.44L88.00 44.76L89.00 45.08L90.00 45.41L91.00 45.73L92.00 46.05L93.00 46.36L94.00 46.68L95.00 47.00L96.00 47.31L97.00 47.62L98.00 47.93L99.00 48.24L100.00 48.55L101.00 48.86L102.00 49.17L103.00 49.47L104.00 49.78L105.00 50.08L106.00 50.39L107.00 50.69L108.00 50.99L109.00 51.29L110.00 51.58L111.00 51.88L112.00 52.18L113.00 52.47L114.00 52.77L115.00 53.06L116.00 53.35L117.00 53.64L118.00 53.93L119.00 54.22L120.00 54.51L121.00 54.80L122.00 55.08L123.00 55.37L124.00 55.65L125.00 55.94L126.00 56.22L127.00 56.50L128.00 56.78L129.00 57.06L130.00 57.34L131.00 57.62L132.00 57.90L133.00 58.17L134.00 58.45L135.00 58.72L136.00 59.00L137.00 59.27L138.00 59.54L139.00 59.82L140.00 60.09L141.00 60.36L142.00 60.63L143.00 60.89L144.00 61.16L145.00 61.43L146.00 61.70L147.00 61.96L148.00 62.23L149.00 62.49L150.00 62.76L151.00 63.02L152.00 63.28L153.00 63.54L154.00 63.80L155.00 64.06L156.00 64.32L157.00 64.58L158.00 64.84L159.00 65.10L160.00 65.36L161.00 65.61L162.00 65.87L163.00 66.13L164.00 66.38L165.00 66.64L166.00 66.89L167.00 67.14L168.00 67.40L169.00 67.65L170.00 67.90L171.00 68.15L172.00 68.40L173.00 68.65L174.00 68.90L175.00 69.15L176.00 69.40L177.00 69.65L178.00 69.90L179.00 70.15L180.00 70.39L181.00 70.64L182.00 70.89L183.00 71.13L184.00 71.38L185.00 71.62L186.00 71.87L187.00 72.11L188.00 72.36L189.00 72.60L190.00 72.84L191.00 73.09L192.00 73.33L193.00 73.57L194.00 73.82L195.00 74.06L196.00 74.30L197.00 74.54L198.00 74.78L199.00 75.02L200.00 75.26L201.00 75.50L202.00 75.75L203.00 75.99L204.00 76.23L205.00 76.46L206.00 76.70L207.00 76.94L208.00 77.18L209.00 77.42L210.00 77.66L211.00 77.90L212.00 78.14L213.00 78.38L214.00 78.61L215.00 78.85L216.00 79.09L217.00 79.33L218.00 79.57L219.00 79.81L220.00 80.04L221.00 80.28L222.00 80.52L223.00 80.76L224.00 80.99L225.00 81.23L226.00 81.47L227.00 81.71L228.00 81.95L229.00 82.18L230.00 82.42L231.00 82.66L232.00 82.90L233.00 83.14L234.00 83.38L235.00 83.61L236.00 83.85L237.00 84.09L238.00 84.33L239.00 84.57L240.00 84.81L241.00 85.05L242.00 85.29L243.00 85.53L244.00 85.77L245.00 86.01L246.00 86.25L247.00 86.50L248.00 86.74L249.00 86.98L250.00 87.22L251.00 87.47L252.00 87.71L253.00 87.95L254.00 88.20L255.00 88.44L256.00 88.69L257.00 88.93L258.00 89.18L259.00 89.43L260.00 89.67L261.00 89.92L262.00 90.17L263.00 90.42L264.00 90.67L265.00 90.92L266.00 91.17L267.00 91.42L268.00 91.67L269.00 91.93L270.00 92.18L271.00 92.44L272.00 92.69L273.00 92.95L274.00 93.21L275.00 93.47L276.00 93.73L277.00 93.99L278.00 94.25L279.00 94.51L280.00 94.78L281.00 95.04L282.00 95.31L283.00 95.57L284.00 95.84L285.00 96.11L286.00 96.38L287.00 96.66L288.00 96.93L289.00 97.21L290.00 97.48L291.00 97.76L292.00 98.04L293.00 98.33L294.00 98.61L295.00 98.89L296.00 99.18L297.00 99.47L298.00 99.76L299.00 100.06L300.00 100.35L301.00 100.65L302.00 100.95L303.00 101.25L304.00 101.56L305.00 101.86L306.00 102.17L307.00 102.48L308.00 102.80L309.00 103.12L310.00 103.44L311.00 103.76L312.00 104.09L313.00 104.42L314.00 104.75L315.00 105.09L316.00 105.43L317.00 105.77L318.00 106.12L319.00 106.47L320.00 106.83L321.00 107.19L322.00 107.55L323.00 107.92L324.00 108.30L325.00 108.68L326.00 109.06L327.00 109.45L328.00 109.85L329.00 110.25L330.00 110.66L331.00 111.07L332.00 111.49L333.00 111.92L334.00 112.35L335.00 112.80L336.00 113.25L337.00 113.71L338.00 114.17L339.00 114.65L340.00 115.14L341.00 115.63L342.00 116.14L343.00 116.66L344.00 117.19L345.00 117.73L346.00 118.28L347.00 118.85L348.00 119.43L349.00 120.03L350.00 120.64L351.00 121.27L352.00 121.92L353.00 122.58L354.00 123.26L355.00 123.97L356.00 124.70L357.00 125.45L358.00 126.22L359.00 127.02L360.00 127.85L361.00 128.70L362.00 129.58L363.00 130.49L364.00 131.44L365.00 132.41L366.00 133.42L367.00 134.45L368.00 135.51L369.00 136.59L370.00 137.69L371.00 138.80L372.00 139.89L373.00 140.96L374.00 141.98L375.00 142.90L376.00 143.70L377.00 144.33L378.00 144.74L379.00 144.90L380.00 144.79L381.00 144.41L382.00 143.76L383.00 142.89L384.00 141.83L385.00 140.63L386.00 139.32L387.00 137.95L388.00 136.54L389.00 135.11L390.00 133.68L391.00 132.26L392.00 130.86L393.00 129.47L394.00 128.12L395.00 126.78L396.00 125.48L397.00 124.20L398.00 122.94L399.00 121.70L400.00 120.49L401.00 119.30L402.00 118.13L403.00 116.97L404.00 115.83L405.00 114.70L406.00 113.59L407.00 112.48L408.00 111.39L409.00 110.30L410.00 109.22L411.00 108.14L412.00 107.07L413.00 106.00L414.00 104.93L415.00 103.87L416.00 102.80L417.00 101.74L418.00 100.68L419.00 99.62L420.00 98.56L421.00 97.50L422.00 96.45L423.00 95.40L424.00 94.37L425.00 93.35L426.00 92.35L427.00 91.38L428.00 90.44L429.00 89.54L430.00 88.69L431.00 87.91L432.00 87.20L433.00 86.57L434.00 86.05L435.00 85.63L436.00 85.33L437.00 85.16L438.00 85.10L439.00 85.17L439.50 85.24" fill="none" stroke="#D95319" stroke-width="1.90" stroke-linejoin="round" clip-path="url(#ct)"/>
<path d="M439.50 81.73L440.50 82.65L441.50 83.58L442.50 84.51L443.50 85.42L444.50 86.32L445.50 87.20L446.50 88.05L447.50 88.87L448.50 89.68L449.50 90.45L450.50 91.21L451.50 91.94L452.50 92.66L453.50 93.35L454.50 94.02L455.50 94.68L456.50 95.31L457.50 95.94L458.50 96.54L459.50 97.13L460.50 97.71L461.50 98.28L462.50 98.83L463.50 99.37L464.50 99.91L465.50 100.43L466.50 100.95L467.50 101.45L468.50 101.99L469.50 102.56L470.50 103.12L471.50 103.68L472.50 104.23L473.50 104.77L474.50 105.31L475.50 105.85L476.50 106.38L477.50 106.91L478.50 107.40L479.50 107.84" fill="none" stroke="#D95319" stroke-width="1.90" stroke-linejoin="round" clip-path="url(#ct)"/>
<path d="M44.00 313.32L45.00 313.20L46.00 313.09L47.00 312.98L48.00 312.87L49.00 312.75L50.00 312.64L51.00 312.53L52.00 312.43L53.00 312.32L54.00 312.21L55.00 312.10L56.00 312.00L57.00 311.89L58.00 311.79L59.00 311.68L60.00 311.58L61.00 311.47L62.00 311.37L63.00 311.27L64.00 311.17L65.00 311.07L66.00 310.97L67.00 310.87L68.00 310.77L69.00 310.67L70.00 310.58L71.00 310.48L72.00 310.39L73.00 310.29L74.00 310.19L75.00 310.10L76.00 310.01L77.00 309.91L78.00 309.82L79.00 309.73L80.00 309.64L81.00 309.55L82.00 309.46L83.00 309.37L84.00 309.28L85.00 309.19L86.00 309.10L87.00 309.02L88.00 308.93L89.00 308.84L90.00 308.76L91.00 308.67L92.00 308.59L93.00 308.50L94.00 308.42L95.00 308.34L96.00 308.26L97.00 308.17L98.00 308.09L99.00 308.01L100.00 307.93L101.00 307.85L102.00 307.77L103.00 307.69L104.00 307.62L105.00 307.54L106.00 307.46L107.00 307.38L108.00 307.31L109.00 307.23L110.00 307.16L111.00 307.08L112.00 307.01L113.00 306.93L114.00 306.86L115.00 306.79L116.00 306.72L117.00 306.64L118.00 306.57L119.00 306.50L120.00 306.43L121.00 306.36L122.00 306.29L123.00 306.22L124.00 306.16L125.00 306.09L126.00 306.02L127.00 305.96L128.00 305.89L129.00 305.82L130.00 305.76L131.00 305.69L132.00 305.63L133.00 305.57L134.00 305.50L135.00 305.44L136.00 305.38L137.00 305.32L138.00 305.25L139.00 305.19L140.00 305.13L141.00 305.07L142.00 305.01L143.00 304.96L144.00 304.90L145.00 304.84L146.00 304.78L147.00 304.73L148.00 304.67L149.00 304.62L150.00 304.56L151.00 304.51L152.00 304.45L153.00 304.40L154.00 304.35L155.00 304.29L156.00 304.24L157.00 304.19L158.00 304.14L159.00 304.09L160.00 304.04L161.00 303.99L162.00 303.94L163.00 303.90L164.00 303.85L165.00 303.80L166.00 303.76L167.00 303.71L168.00 303.66L169.00 303.62L170.00 303.58L171.00 303.53L172.00 303.49L173.00 303.45L174.00 303.41L175.00 303.37L176.00 303.33L177.00 303.29L178.00 303.25L179.00 303.21L180.00 303.17L181.00 303.13L182.00 303.10L183.00 303.06L184.00 303.03L185.00 302.99L186.00 302.96L187.00 302.93L188.00 302.89L189.00 302.86L190.00 302.83L191.00 302.80L192.00 302.77L193.00 302.74L194.00 302.71L195.00 302.68L196.00 302.66L197.00 302.63L198.00 302.60L199.00 302.58L200.00 302.56L201.00 302.53L202.00 302.51L203.00 302.49L204.00 302.47L205.00 302.44L206.00 302.42L207.00 302.41L208.00 302.39L209.00 302.37L210.00 302.35L211.00 302.34L212.00 302.32L213.00 302.31L214.00 302.29L215.00 302.28L216.00 302.27L217.00 302.26L218.00 302.25L219.00 302.24L220.00 302.23L221.00 302.22L222.00 302.21L223.00 302.21L224.00 302.20L225.00 302.20L226.00 302.19L227.00 302.19L228.00 302.19L229.00 302.18L230.00 302.18L231.00 302.18L232.00 302.18L233.00 302.19L234.00 302.19L235.00 302.19L236.00 302.20L237.00 302.20L238.00 302.21L239.00 302.21L240.00 302.22L241.00 302.23L242.00 302.24L243.00 302.25L244.00 302.26L245.00 302.27L246.00 302.28L247.00 302.30L248.00 302.31L249.00 302.33L250.00 302.34L251.00 302.36L252.00 302.37L253.00 302.39L254.00 302.41L255.00 302.43L256.00 302.45L257.00 302.47L258.00 302.49L259.00 302.51L260.00 302.53L261.00 302.55L262.00 302.58L263.00 302.60L264.00 302.63L265.00 302.68L266.00 302.72L267.00 302.78L268.00 302.85L269.00 302.92L270.00 303.00L271.00 303.09L272.00 303.19L273.00 303.30L274.00 303.41L275.00 303.53L276.00 303.66L277.00 303.79L278.00 303.93L279.00 304.06L280.00 304.20L281.00 304.34L282.00 304.48L283.00 304.61L284.00 304.74L285.00 304.85L286.00 304.95L287.00 305.04L288.00 305.13L289.00 305.23L290.00 305.32L291.00 305.42L292.00 305.51L293.00 305.61L294.00 305.71L295.00 305.82L296.00 305.92L297.00 306.02L298.00 306.13L299.00 306.23L300.00 306.34L301.00 306.45L302.00 306.56L303.00 306.67L304.00 306.78L305.00 306.90L306.00 307.01L307.00 307.13L308.00 307.24L309.00 307.36L310.00 307.48L311.00 307.60L312.00 307.72L313.00 307.84L314.00 307.97L315.00 308.09L316.00 308.21L317.00 308.34L318.00 308.46L319.00 308.59L320.00 308.71L321.00 308.84L322.00 308.97L323.00 309.09L324.00 309.22L325.00 309.35L326.00 309.48L327.00 309.60L328.00 309.73L329.00 309.86L330.00 309.98L331.00 310.10L332.00 310.23L333.00 310.35L334.00 310.47L335.00 310.59L336.00 310.70L337.00 310.82L338.00 310.93L339.00 311.03L340.00 311.13L341.00 311.23L342.00 311.33L343.00 311.42L344.00 311.50L345.00 311.57L346.00 311.64L347.00 311.70L348.00 311.75L349.00 311.80L350.00 311.83L351.00 311.84L352.00 311.85L353.00 311.84L354.00 311.81L355.00 311.76L356.00 311.69L357.00 311.60L358.00 311.47L359.00 311.32L360.00 311.14L361.00 310.92L362.00 310.65L363.00 310.34L364.00 309.97L365.00 309.53L366.00 309.03L367.00 308.43L368.00 307.74L369.00 306.94L370.00 306.02L371.00 304.94L372.00 303.71L373.00 302.30L374.00 300.70L375.00 298.91L376.00 296.93L377.00 294.80L378.00 292.55L379.00 290.24L380.00 287.94L381.00 285.72L382.00 283.63L383.00 281.71L384.00 279.99L385.00 278.47L386.00 277.16L387.00 276.04L388.00 275.09L389.00 274.30L390.00 273.65L391.00 273.13L392.00 272.71L393.00 272.40L394.00 272.17L395.00 272.02L396.00 271.94L397.00 271.92L398.00 271.96L399.00 272.06L400.00 272.19L401.00 272.38L402.00 272.60L403.00 272.87L404.00 273.17L405.00 273.50L406.00 273.87L407.00 274.28L408.00 274.72L409.00 275.19L410.00 275.70L411.00 276.24L412.00 276.82L413.00 277.44L414.00 278.09L415.00 278.79L416.00 279.52L417.00 280.31L418.00 281.13L419.00 282.01L420.00 282.94L421.00 283.93L422.00 284.98L423.00 286.09L424.00 287.27L425.00 288.51L426.00 289.84L427.00 291.24L428.00 292.73L429.00 294.29L430.00 295.95L431.00 297.69L432.00 299.52L433.00 301.43L434.00 303.41L435.00 305.46L436.00 307.57L437.00 309.71L438.00 311.89L439.00 314.07L440.00 316.24L441.00 318.38L442.00 320.49L443.00 322.54L444.00 324.53L445.00 326.46L446.00 328.32L447.00 330.10L448.00 331.82L449.00 333.47L450.00 335.06L451.00 336.59L452.00 338.06L453.00 339.49L454.00 340.86L455.00 342.19L456.00 343.48L457.00 344.73L458.00 345.95L459.00 347.13L460.00 348.28L461.00 349.40L462.00 350.50L463.00 351.57L464.00 352.61L465.00 353.63L466.00 354.62L467.00 355.59L468.00 356.54L469.00 357.47L470.00 358.38L471.00 359.27L472.00 360.13L473.00 360.97L474.00 361.80L475.00 362.60L476.00 363.37L477.00 364.13L478.00 364.87L479.00 365.58L480.00 366.27L481.00 366.93L482.00 367.57L483.00 368.19L484.00 368.78L485.00 369.35L486.00 369.89L487.00 370.40L488.00 370.89L489.00 371.34" fill="none" stroke="#fff" stroke-width="3.00" stroke-linejoin="round" clip-path="url(#cb)"/>
<path d="M44.00 313.32L45.00 313.20L46.00 313.09L47.00 312.98L48.00 312.87L49.00 312.75L50.00 312.64L51.00 312.53L52.00 312.43L53.00 312.32L54.00 312.21L55.00 312.10L56.00 312.00L57.00 311.89L58.00 311.79L59.00 311.68L60.00 311.58L61.00 311.47L62.00 311.37L63.00 311.27L64.00 311.17L65.00 311.07L66.00 310.97L67.00 310.87L68.00 310.77L69.00 310.67L70.00 310.58L71.00 310.48L72.00 310.39L73.00 310.29L74.00 310.19L75.00 310.10L76.00 310.01L77.00 309.91L78.00 309.82L79.00 309.73L80.00 309.64L81.00 309.55L82.00 309.46L83.00 309.37L84.00 309.28L85.00 309.19L86.00 309.10L87.00 309.02L88.00 308.93L89.00 308.84L90.00 308.76L91.00 308.67L92.00 308.59L93.00 308.50L94.00 308.42L95.00 308.34L96.00 308.26L97.00 308.17L98.00 308.09L99.00 308.01L100.00 307.93L101.00 307.85L102.00 307.77L103.00 307.69L104.00 307.62L105.00 307.54L106.00 307.46L107.00 307.38L108.00 307.31L109.00 307.23L110.00 307.16L111.00 307.08L112.00 307.01L113.00 306.93L114.00 306.86L115.00 306.79L116.00 306.72L117.00 306.64L118.00 306.57L119.00 306.50L120.00 306.43L121.00 306.36L122.00 306.29L123.00 306.22L124.00 306.16L125.00 306.09L126.00 306.02L127.00 305.96L128.00 305.89L129.00 305.82L130.00 305.76L131.00 305.69L132.00 305.63L133.00 305.57L134.00 305.50L135.00 305.44L136.00 305.38L137.00 305.32L138.00 305.25L139.00 305.19L140.00 305.13L141.00 305.07L142.00 305.01L143.00 304.96L144.00 304.90L145.00 304.84L146.00 304.78L147.00 304.73L148.00 304.67L149.00 304.62L150.00 304.56L151.00 304.51L152.00 304.45L153.00 304.40L154.00 304.35L155.00 304.29L156.00 304.24L157.00 304.19L158.00 304.14L159.00 304.09L160.00 304.04L161.00 303.99L162.00 303.94L163.00 303.90L164.00 303.85L165.00 303.80L166.00 303.76L167.00 303.71L168.00 303.66L169.00 303.62L170.00 303.58L171.00 303.53L172.00 303.49L173.00 303.45L174.00 303.41L175.00 303.37L176.00 303.33L177.00 303.29L178.00 303.25L179.00 303.21L180.00 303.17L181.00 303.13L182.00 303.10L183.00 303.06L184.00 303.03L185.00 302.99L186.00 302.96L187.00 302.93L188.00 302.89L189.00 302.86L190.00 302.83L191.00 302.80L192.00 302.77L193.00 302.74L194.00 302.71L195.00 302.68L196.00 302.66L197.00 302.63L198.00 302.60L199.00 302.58L200.00 302.56L201.00 302.53L202.00 302.51L203.00 302.49L204.00 302.47L205.00 302.44L206.00 302.42L207.00 302.41L208.00 302.39L209.00 302.37L210.00 302.35L211.00 302.34L212.00 302.32L213.00 302.31L214.00 302.29L215.00 302.28L216.00 302.27L217.00 302.26L218.00 302.25L219.00 302.24L220.00 302.23L221.00 302.22L222.00 302.21L223.00 302.21L224.00 302.20L225.00 302.20L226.00 302.19L227.00 302.19L228.00 302.19L229.00 302.18L230.00 302.18L231.00 302.18L232.00 302.18L233.00 302.19L234.00 302.19L235.00 302.19L236.00 302.20L237.00 302.20L238.00 302.21L239.00 302.21L240.00 302.22L241.00 302.23L242.00 302.24L243.00 302.25L244.00 302.26L245.00 302.27L246.00 302.28L247.00 302.30L248.00 302.31L249.00 302.33L250.00 302.34L251.00 302.36L252.00 302.37L253.00 302.39L254.00 302.41L255.00 302.43L256.00 302.45L257.00 302.47L258.00 302.49L259.00 302.51L260.00 302.53L261.00 302.55L262.00 302.58L263.00 302.60L264.00 302.63L265.00 302.68L266.00 302.72L267.00 302.78L268.00 302.85L269.00 302.92L270.00 303.00L271.00 303.09L272.00 303.19L273.00 303.30L274.00 303.41L275.00 303.53L276.00 303.66L277.00 303.79L278.00 303.93L279.00 304.06L280.00 304.20L281.00 304.34L282.00 304.48L283.00 304.61L284.00 304.74L285.00 304.85L286.00 304.95L287.00 305.04L288.00 305.13L289.00 305.23L290.00 305.32L291.00 305.42L292.00 305.51L293.00 305.61L294.00 305.71L295.00 305.82L296.00 305.92L297.00 306.02L298.00 306.13L299.00 306.23L300.00 306.34L301.00 306.45L302.00 306.56L303.00 306.67L304.00 306.78L305.00 306.90L306.00 307.01L307.00 307.13L308.00 307.24L309.00 307.36L310.00 307.48L311.00 307.60L312.00 307.72L313.00 307.84L314.00 307.97L315.00 308.09L316.00 308.21L317.00 308.34L318.00 308.46L319.00 308.59L320.00 308.71L321.00 308.84L322.00 308.97L323.00 309.09L324.00 309.22L325.00 309.35L326.00 309.48L327.00 309.60L328.00 309.73L329.00 309.86L330.00 309.98L331.00 310.10L332.00 310.23L333.00 310.35L334.00 310.47L335.00 310.59L336.00 310.70L337.00 310.82L338.00 310.93L339.00 311.03L340.00 311.13L341.00 311.23L342.00 311.33L343.00 311.42L344.00 311.50L345.00 311.57L346.00 311.64L347.00 311.70L348.00 311.75L349.00 311.80L350.00 311.83L351.00 311.84L352.00 311.85L353.00 311.84L354.00 311.81L355.00 311.76L356.00 311.69L357.00 311.60L358.00 311.47L359.00 311.32L360.00 311.14L361.00 310.92L362.00 310.65L363.00 310.34L364.00 309.97L365.00 309.53L366.00 309.03L367.00 308.43L368.00 307.74L369.00 306.94L370.00 306.02L371.00 304.94L372.00 303.71L373.00 302.30L374.00 300.70L375.00 298.91L376.00 296.93L377.00 294.80L378.00 292.55L379.00 290.24L380.00 287.94L381.00 285.72L382.00 283.63L383.00 281.71L384.00 279.99L385.00 278.47L386.00 277.16L387.00 276.04L388.00 275.09L389.00 274.30L390.00 273.65L391.00 273.13L392.00 272.71L393.00 272.40L394.00 272.17L395.00 272.02L396.00 271.94L397.00 271.92L398.00 271.96L399.00 272.06L400.00 272.19L401.00 272.38L402.00 272.60L403.00 272.87L404.00 273.17L405.00 273.50L406.00 273.87L407.00 274.28L408.00 274.72L409.00 275.19L410.00 275.70L411.00 276.24L412.00 276.82L413.00 277.44L414.00 278.09L415.00 278.79L416.00 279.52L417.00 280.31L418.00 281.13L419.00 282.01L420.00 282.94L421.00 283.93L422.00 284.98L423.00 286.09L424.00 287.27L425.00 288.51L426.00 289.84L427.00 291.24L428.00 292.73L429.00 294.29L430.00 295.95L431.00 297.69L432.00 299.52L433.00 301.43L434.00 303.41L435.00 305.46L436.00 307.57L437.00 309.71L438.00 311.89L439.00 314.07L440.00 316.24L441.00 318.38L442.00 320.49L443.00 322.54L444.00 324.53L445.00 326.46L446.00 328.32L447.00 330.10L448.00 331.82L449.00 333.47L450.00 335.06L451.00 336.59L452.00 338.06L453.00 339.49L454.00 340.86L455.00 342.19L456.00 343.48L457.00 344.73L458.00 345.95L459.00 347.13L460.00 348.28L461.00 349.40L462.00 350.50L463.00 351.57L464.00 352.61L465.00 353.63L466.00 354.62L467.00 355.59L468.00 356.54L469.00 357.47L470.00 358.38L471.00 359.27L472.00 360.13L473.00 360.97L474.00 361.80L475.00 362.60L476.00 363.37L477.00 364.13L478.00 364.87L479.00 365.58L480.00 366.27L481.00 366.93L482.00 367.57L483.00 368.19L484.00 368.78L485.00 369.35L486.00 369.89L487.00 370.40L488.00 370.89L489.00 371.34" fill="none" stroke="#D95319" stroke-width="1.90" stroke-linejoin="round" clip-path="url(#cb)"/>
<path d="M44.00 47.95L45.00 48.33L46.00 48.70L47.00 49.08L48.00 49.46L49.00 49.83L50.00 50.20L51.00 50.57L52.00 50.94L53.00 51.31L54.00 51.67L55.00 52.04L56.00 52.40L57.00 52.76L58.00 53.12L59.00 53.48L60.00 53.84L61.00 54.19L62.00 54.55L63.00 54.90L64.00 55.25L65.00 55.60L66.00 55.95L67.00 56.30L68.00 56.65L69.00 56.99L70.00 57.34L71.00 57.68L72.00 58.02L73.00 58.36L74.00 58.70L75.00 59.04L76.00 59.38L77.00 59.71L78.00 60.05L79.00 60.38L80.00 60.71L81.00 61.04L82.00 61.37L83.00 61.70L84.00 62.03L85.00 62.36L86.00 62.68L87.00 63.01L88.00 63.33L89.00 63.65L90.00 63.97L91.00 64.29L92.00 64.61L93.00 64.93L94.00 65.25L95.00 65.56L96.00 65.88L97.00 66.19L98.00 66.50L99.00 66.82L100.00 67.13L101.00 67.44L102.00 67.75L103.00 68.05L104.00 68.36L105.00 68.67L106.00 68.97L107.00 69.28L108.00 69.58L109.00 69.88L110.00 70.19L111.00 70.49L112.00 70.79L113.00 71.09L114.00 71.38L115.00 71.68L116.00 71.98L117.00 72.27L118.00 72.57L119.00 72.86L120.00 73.16L121.00 73.45L122.00 73.74L123.00 74.03L124.00 74.32L125.00 74.61L126.00 74.90L127.00 75.19L128.00 75.47L129.00 75.76L130.00 76.04L131.00 76.33L132.00 76.61L133.00 76.90L134.00 77.18L135.00 77.46L136.00 77.74L137.00 78.02L138.00 78.30L139.00 78.58L140.00 78.86L141.00 79.14L142.00 79.41L143.00 79.69L144.00 79.96L145.00 80.24L146.00 80.51L147.00 80.79L148.00 81.06L149.00 81.33L150.00 81.60L151.00 81.88L152.00 82.15L153.00 82.42L154.00 82.69L155.00 82.95L156.00 83.22L157.00 83.49L158.00 83.76L159.00 84.02L160.00 84.29L161.00 84.56L162.00 84.82L163.00 85.08L164.00 85.35L165.00 85.61L166.00 85.88L167.00 86.14L168.00 86.40L169.00 86.66L170.00 86.92L171.00 87.18L172.00 87.44L173.00 87.70L174.00 87.96L175.00 88.22L176.00 88.48L177.00 88.74L178.00 89.00L179.00 89.26L180.00 89.52L181.00 89.78L182.00 90.04L183.00 90.30L184.00 90.56L185.00 90.82L186.00 91.08L187.00 91.34L188.00 91.60L189.00 91.86L190.00 92.12L191.00 92.38L192.00 92.64L193.00 92.91L194.00 93.17L195.00 93.43L196.00 93.70L197.00 93.96L198.00 94.22L199.00 94.49L200.00 94.76L201.00 95.02L202.00 95.29L203.00 95.56L204.00 95.83L205.00 96.10L206.00 96.37L207.00 96.64L208.00 96.92L209.00 97.19L210.00 97.47L211.00 97.74L212.00 98.02L213.00 98.30L214.00 98.58L215.00 98.86L216.00 99.15L217.00 99.43L218.00 99.72L219.00 100.01L220.00 100.30L221.00 100.59L222.00 100.88L223.00 101.18L224.00 101.47L225.00 101.77L226.00 102.07L227.00 102.38L228.00 102.68L229.00 102.99L230.00 103.30L231.00 103.61L232.00 103.93L233.00 104.24L234.00 104.56L235.00 104.89L236.00 105.21L237.00 105.54L238.00 105.87L239.00 106.20L240.00 106.54L241.00 106.88L242.00 107.22L243.00 107.57L244.00 107.92L245.00 108.27L246.00 108.63L247.00 108.99L248.00 109.36L249.00 109.73L250.00 110.10L251.00 110.48L252.00 110.86L253.00 111.25L254.00 111.64L255.00 112.04L256.00 112.44L257.00 112.84L258.00 113.26L259.00 113.67L260.00 114.10L261.00 114.52L262.00 114.96L263.00 115.40L264.00 115.84L265.00 116.29L266.00 116.75L267.00 117.21L268.00 117.67L269.00 118.14L270.00 118.62L271.00 119.10L272.00 119.58L273.00 120.07L274.00 120.56L275.00 121.05L276.00 121.55L277.00 122.05L278.00 122.56L279.00 123.07L280.00 123.59L281.00 124.11L282.00 124.64L283.00 125.18L284.00 125.72L285.00 126.28L286.00 126.85L287.00 127.43L288.00 128.03L289.00 128.65L290.00 129.29L291.00 129.96L292.00 130.65L293.00 131.36L294.00 132.11L295.00 132.89L296.00 133.71L297.00 134.56L298.00 135.46L299.00 136.40L300.00 137.39L301.00 138.44L302.00 139.54L303.00 140.69L304.00 141.91L305.00 143.18L306.00 144.52L307.00 145.93L308.00 147.42L309.00 148.98L310.00 150.62L311.00 152.33L312.00 154.10L313.00 155.89L314.00 157.69L315.00 159.45L316.00 161.12L317.00 162.68L318.00 164.11L319.00 165.34L320.00 166.26L321.00 166.75L322.00 166.84L323.00 166.45L324.00 165.43L325.00 163.65L326.00 161.35L327.00 159.05L328.00 156.98L329.00 155.06L330.00 153.21L331.00 151.42L332.00 149.69L333.00 148.02L334.00 146.42L335.00 144.87L336.00 143.39L337.00 141.96L338.00 140.57L339.00 139.23L340.00 137.94L341.00 136.68L342.00 135.46L343.00 134.27L344.00 133.11L345.00 131.97L346.00 130.87L347.00 129.79L348.00 128.74L349.00 127.71L350.00 126.71L351.00 125.73L352.00 124.77L353.00 123.83L354.00 122.91L355.00 122.02L356.00 121.15L357.00 120.30L358.00 119.47L359.00 118.66L360.00 117.87L361.00 117.11L362.00 116.37L363.00 115.65L364.00 114.94L365.00 114.25L366.00 113.58L367.00 112.92L368.00 112.27L369.00 111.63L370.00 111.00L371.00 110.38L372.00 109.76L373.00 109.15L374.00 108.54L375.00 107.93L376.00 107.33L377.00 106.72L378.00 106.11L379.00 105.50L380.00 104.89L381.00 104.26L382.00 103.63L383.00 103.00L384.00 102.35L385.00 101.69L386.00 101.02L387.00 100.33L388.00 99.64L389.00 98.93L390.00 98.21L391.00 97.47L392.00 96.73L393.00 95.97L394.00 95.20L395.00 94.42L396.00 93.63L397.00 92.83L398.00 92.02L399.00 91.20L400.00 90.36L401.00 89.52L402.00 88.67L403.00 87.81L404.00 86.94L405.00 86.07L406.00 85.20L407.00 84.32L408.00 83.44L409.00 82.57L410.00 81.71L411.00 80.85L412.00 80.02L413.00 79.20L414.00 78.41L415.00 77.65L416.00 76.93L417.00 76.25L418.00 75.64L419.00 75.10L420.00 74.63L421.00 74.26L422.00 73.98L423.00 73.81L424.00 73.74L425.00 73.77L426.00 73.89L427.00 74.11L428.00 74.42L429.00 74.81L430.00 75.28L431.00 75.81L432.00 76.41L433.00 77.07L434.00 77.78L435.00 78.55L436.00 79.36L437.00 80.22L438.00 81.11L439.00 82.01L440.00 82.94L441.00 83.87L442.00 84.80L443.00 85.72L444.00 86.63L445.00 87.51L446.00 88.38L447.00 89.22L448.00 90.03L449.00 90.82L450.00 91.59L451.00 92.33L452.00 93.05L453.00 93.75L454.00 94.44L455.00 95.10L456.00 95.75L457.00 96.38L458.00 96.99L459.00 97.59L460.00 98.17L461.00 98.75L462.00 99.31L463.00 99.85L464.00 100.39L465.00 100.92L466.00 101.44L467.00 101.95L468.00 102.46L469.00 102.95L470.00 103.44L471.00 103.93L472.00 104.40L473.00 104.88L474.00 105.34L475.00 105.81L476.00 106.27L477.00 106.72L478.00 107.17L479.00 107.62L480.00 108.06L481.00 108.51L482.00 108.95L483.00 109.39L484.00 109.83L485.00 110.26L486.00 110.70L487.00 111.14L488.00 111.57L489.00 112.01L490.00 112.44L491.00 112.88L492.00 113.32L493.00 113.76L494.00 114.20L495.00 114.65L496.00 115.09L497.00 115.54L498.00 115.99L499.00 116.45L500.00 116.91L501.00 117.37L502.00 117.84L503.00 118.31L504.00 118.78L505.00 119.26L506.00 119.75L507.00 120.24L508.00 120.73L509.00 121.23L510.00 121.73L511.00 122.24L512.00 122.75L513.00 123.27L514.00 123.79L515.00 124.32L516.00 124.85L517.00 125.38L518.00 125.92L519.00 126.46L520.00 127.00L521.00 127.55L522.00 128.10L523.00 128.66L524.00 129.21L525.00 129.78L526.00 130.34L527.00 130.91L528.00 131.48L529.00 132.06L530.00 132.63L531.00 133.22L532.00 133.80L533.00 134.38L534.00 134.97L535.00 135.56L536.00 136.16L537.00 136.75L538.00 137.35L539.00 137.95L540.00 138.55L541.00 139.16L542.00 139.76L543.00 140.37L544.00 140.98L545.00 141.59" fill="none" stroke="#fff" stroke-width="3.00" stroke-linejoin="round" clip-path="url(#ct)"/>
<path d="M44.00 47.95L45.00 48.33L46.00 48.70L47.00 49.08L48.00 49.46L49.00 49.83L50.00 50.20L51.00 50.57L52.00 50.94L53.00 51.31L54.00 51.67L55.00 52.04L56.00 52.40L57.00 52.76L58.00 53.12L59.00 53.48L60.00 53.84L61.00 54.19L62.00 54.55L63.00 54.90L64.00 55.25L65.00 55.60L66.00 55.95L67.00 56.30L68.00 56.65L69.00 56.99L70.00 57.34L71.00 57.68L72.00 58.02L73.00 58.36L74.00 58.70L75.00 59.04L76.00 59.38L77.00 59.71L78.00 60.05L79.00 60.38L80.00 60.71L81.00 61.04L82.00 61.37L83.00 61.70L84.00 62.03L85.00 62.36L86.00 62.68L87.00 63.01L88.00 63.33L89.00 63.65L90.00 63.97L91.00 64.29L92.00 64.61L93.00 64.93L94.00 65.25L95.00 65.56L96.00 65.88L97.00 66.19L98.00 66.50L99.00 66.82L100.00 67.13L101.00 67.44L102.00 67.75L103.00 68.05L104.00 68.36L105.00 68.67L106.00 68.97L107.00 69.28L108.00 69.58L109.00 69.88L110.00 70.19L111.00 70.49L112.00 70.79L113.00 71.09L114.00 71.38L115.00 71.68L116.00 71.98L117.00 72.27L118.00 72.57L119.00 72.86L120.00 73.16L121.00 73.45L122.00 73.74L123.00 74.03L124.00 74.32L125.00 74.61L126.00 74.90L127.00 75.19L128.00 75.47L129.00 75.76L130.00 76.04L131.00 76.33L132.00 76.61L133.00 76.90L134.00 77.18L135.00 77.46L136.00 77.74L137.00 78.02L138.00 78.30L139.00 78.58L140.00 78.86L141.00 79.14L142.00 79.41L143.00 79.69L144.00 79.96L145.00 80.24L146.00 80.51L147.00 80.79L148.00 81.06L149.00 81.33L150.00 81.60L151.00 81.88L152.00 82.15L153.00 82.42L154.00 82.69L155.00 82.95L156.00 83.22L157.00 83.49L158.00 83.76L159.00 84.02L160.00 84.29L161.00 84.56L162.00 84.82L163.00 85.08L164.00 85.35L165.00 85.61L166.00 85.88L167.00 86.14L168.00 86.40L169.00 86.66L170.00 86.92L171.00 87.18L172.00 87.44L173.00 87.70L174.00 87.96L175.00 88.22L176.00 88.48L177.00 88.74L178.00 89.00L179.00 89.26L180.00 89.52L181.00 89.78L182.00 90.04L183.00 90.30L184.00 90.56L185.00 90.82L186.00 91.08L187.00 91.34L188.00 91.60L189.00 91.86L190.00 92.12L191.00 92.38L192.00 92.64L193.00 92.91L194.00 93.17L195.00 93.43L196.00 93.70L197.00 93.96L198.00 94.22L199.00 94.49L200.00 94.76L201.00 95.02L202.00 95.29L203.00 95.56L204.00 95.83L205.00 96.10L206.00 96.37L207.00 96.64L208.00 96.92L209.00 97.19L210.00 97.47L211.00 97.74L212.00 98.02L213.00 98.30L214.00 98.58L215.00 98.86L216.00 99.15L217.00 99.43L218.00 99.72L219.00 100.01L220.00 100.30L221.00 100.59L222.00 100.88L223.00 101.18L224.00 101.47L225.00 101.77L226.00 102.07L227.00 102.38L228.00 102.68L229.00 102.99L230.00 103.30L231.00 103.61L232.00 103.93L233.00 104.24L234.00 104.56L235.00 104.89L236.00 105.21L237.00 105.54L238.00 105.87L239.00 106.20L240.00 106.54L241.00 106.88L242.00 107.22L243.00 107.57L244.00 107.92L245.00 108.27L246.00 108.63L247.00 108.99L248.00 109.36L249.00 109.73L250.00 110.10L251.00 110.48L252.00 110.86L253.00 111.25L254.00 111.64L255.00 112.04L256.00 112.44L257.00 112.84L258.00 113.26L259.00 113.67L260.00 114.10L261.00 114.52L262.00 114.96L263.00 115.40L264.00 115.84L265.00 116.29L266.00 116.75L267.00 117.21L268.00 117.67L269.00 118.14L270.00 118.62L271.00 119.10L272.00 119.58L273.00 120.07L274.00 120.56L275.00 121.05L276.00 121.55L277.00 122.05L278.00 122.56L279.00 123.07L280.00 123.59L281.00 124.11L282.00 124.64L283.00 125.18L284.00 125.72L285.00 126.28L286.00 126.85L287.00 127.43L288.00 128.03L289.00 128.65L290.00 129.29L291.00 129.96L292.00 130.65L293.00 131.36L294.00 132.11L295.00 132.89L296.00 133.71L297.00 134.56L298.00 135.46L299.00 136.40L300.00 137.39L301.00 138.44L302.00 139.54L303.00 140.69L304.00 141.91L305.00 143.18L306.00 144.52L307.00 145.93L308.00 147.42L309.00 148.98L310.00 150.62L311.00 152.33L312.00 154.10L313.00 155.89L314.00 157.69L315.00 159.45L316.00 161.12L317.00 162.68L318.00 164.11L319.00 165.34L320.00 166.26L321.00 166.75L322.00 166.84L323.00 166.45L324.00 165.43L325.00 163.65L326.00 161.35L327.00 159.05L328.00 156.98L329.00 155.06L330.00 153.21L331.00 151.42L332.00 149.69L333.00 148.02L334.00 146.42L335.00 144.87L336.00 143.39L337.00 141.96L338.00 140.57L339.00 139.23L340.00 137.94L341.00 136.68L342.00 135.46L343.00 134.27L344.00 133.11L345.00 131.97L346.00 130.87L347.00 129.79L348.00 128.74L349.00 127.71L350.00 126.71L351.00 125.73L352.00 124.77L353.00 123.83L354.00 122.91L355.00 122.02L356.00 121.15L357.00 120.30L358.00 119.47L359.00 118.66L360.00 117.87L361.00 117.11L362.00 116.37L363.00 115.65L364.00 114.94L365.00 114.25L366.00 113.58L367.00 112.92L368.00 112.27L369.00 111.63L370.00 111.00L371.00 110.38L372.00 109.76L373.00 109.15L374.00 108.54L375.00 107.93L376.00 107.33L377.00 106.72L378.00 106.11L379.00 105.50L380.00 104.89L381.00 104.26L382.00 103.63L383.00 103.00L384.00 102.35L385.00 101.69L386.00 101.02L387.00 100.33L388.00 99.64L389.00 98.93L390.00 98.21L391.00 97.47L392.00 96.73L393.00 95.97L394.00 95.20L395.00 94.42L396.00 93.63L397.00 92.83L398.00 92.02L399.00 91.20L400.00 90.36L401.00 89.52L402.00 88.67L403.00 87.81L404.00 86.94L405.00 86.07L406.00 85.20L407.00 84.32L408.00 83.44L409.00 82.57L410.00 81.71L411.00 80.85L412.00 80.02L413.00 79.20L414.00 78.41L415.00 77.65L416.00 76.93L417.00 76.25L418.00 75.64L419.00 75.10L420.00 74.63L421.00 74.26L422.00 73.98L423.00 73.81L424.00 73.74L425.00 73.77L426.00 73.89L427.00 74.11L428.00 74.42L429.00 74.81L430.00 75.28L431.00 75.81L432.00 76.41L433.00 77.07L434.00 77.78L435.00 78.55L436.00 79.36L437.00 80.22L438.00 81.11L439.00 82.01L440.00 82.94L441.00 83.87L442.00 84.80L443.00 85.72L444.00 86.63L445.00 87.51L446.00 88.38L447.00 89.22L448.00 90.03L449.00 90.82L450.00 91.59L451.00 92.33L452.00 93.05L453.00 93.75L454.00 94.44L455.00 95.10L456.00 95.75L457.00 96.38L458.00 96.99L459.00 97.59L460.00 98.17L461.00 98.75L462.00 99.31L463.00 99.85L464.00 100.39L465.00 100.92L466.00 101.44L467.00 101.95L468.00 102.46L469.00 102.95L470.00 103.44L471.00 103.93L472.00 104.40L473.00 104.88L474.00 105.34L475.00 105.81L476.00 106.27L477.00 106.72L478.00 107.17L479.00 107.62L480.00 108.06L481.00 108.51L482.00 108.95L483.00 109.39L484.00 109.83L485.00 110.26L486.00 110.70L487.00 111.14L488.00 111.57L489.00 112.01L490.00 112.44L491.00 112.88L492.00 113.32L493.00 113.76L494.00 114.20L495.00 114.65L496.00 115.09L497.00 115.54L498.00 115.99L499.00 116.45L500.00 116.91L501.00 117.37L502.00 117.84L503.00 118.31L504.00 118.78L505.00 119.26L506.00 119.75L507.00 120.24L508.00 120.73L509.00 121.23L510.00 121.73L511.00 122.24L512.00 122.75L513.00 123.27L514.00 123.79L515.00 124.32L516.00 124.85L517.00 125.38L518.00 125.92L519.00 126.46L520.00 127.00L521.00 127.55L522.00 128.10L523.00 128.66L524.00 129.21L525.00 129.78L526.00 130.34L527.00 130.91L528.00 131.48L529.00 132.06L530.00 132.63L531.00 133.22L532.00 133.80L533.00 134.38L534.00 134.97L535.00 135.56L536.00 136.16L537.00 136.75L538.00 137.35L539.00 137.95L540.00 138.55L541.00 139.16L542.00 139.76L543.00 140.37L544.00 140.98L545.00 141.59" fill="none" stroke="#EDB120" stroke-width="1.90" stroke-linejoin="round" clip-path="url(#ct)"/>
<path d="M44.00 313.32L45.00 313.20L46.00 313.09L47.00 312.98L48.00 312.87L49.00 312.75L50.00 312.64L51.00 312.53L52.00 312.43L53.00 312.32L54.00 312.21L55.00 312.10L56.00 312.00L57.00 311.89L58.00 311.79L59.00 311.68L60.00 311.58L61.00 311.47L62.00 311.37L63.00 311.27L64.00 311.17L65.00 311.07L66.00 310.97L67.00 310.87L68.00 310.77L69.00 310.67L70.00 310.58L71.00 310.48L72.00 310.39L73.00 310.29L74.00 310.19L75.00 310.10L76.00 310.01L77.00 309.91L78.00 309.82L79.00 309.73L80.00 309.64L81.00 309.55L82.00 309.46L83.00 309.37L84.00 309.28L85.00 309.19L86.00 309.10L87.00 309.02L88.00 308.93L89.00 308.84L90.00 308.76L91.00 308.67L92.00 308.59L93.00 308.50L94.00 308.42L95.00 308.34L96.00 308.26L97.00 308.17L98.00 308.09L99.00 308.01L100.00 307.93L101.00 307.85L102.00 307.77L103.00 307.69L104.00 307.62L105.00 307.54L106.00 307.46L107.00 307.38L108.00 307.31L109.00 307.23L110.00 307.16L111.00 307.08L112.00 307.01L113.00 306.93L114.00 306.86L115.00 306.79L116.00 306.72L117.00 306.64L118.00 306.57L119.00 306.50L120.00 306.43L121.00 306.36L122.00 306.29L123.00 306.22L124.00 306.16L125.00 306.09L126.00 306.02L127.00 305.96L128.00 305.89L129.00 305.82L130.00 305.76L131.00 305.69L132.00 305.63L133.00 305.57L134.00 305.50L135.00 305.44L136.00 305.38L137.00 305.32L138.00 305.25L139.00 305.19L140.00 305.13L141.00 305.07L142.00 305.01L143.00 304.96L144.00 304.90L145.00 304.84L146.00 304.78L147.00 304.73L148.00 304.67L149.00 304.62L150.00 304.56L151.00 304.51L152.00 304.45L153.00 304.40L154.00 304.35L155.00 304.29L156.00 304.24L157.00 304.19L158.00 304.14L159.00 304.09L160.00 304.04L161.00 303.99L162.00 303.94L163.00 303.90L164.00 303.85L165.00 303.80L166.00 303.76L167.00 303.71L168.00 303.66L169.00 303.62L170.00 303.58L171.00 303.53L172.00 303.49L173.00 303.45L174.00 303.41L175.00 303.37L176.00 303.33L177.00 303.29L178.00 303.25L179.00 303.21L180.00 303.17L181.00 303.13L182.00 303.10L183.00 303.06L184.00 303.03L185.00 302.99L186.00 302.96L187.00 302.93L188.00 302.89L189.00 302.86L190.00 302.83L191.00 302.80L192.00 302.77L193.00 302.74L194.00 302.71L195.00 302.68L196.00 302.66L197.00 302.63L198.00 302.60L199.00 302.58L200.00 302.56L201.00 302.53L202.00 302.51L203.00 302.49L204.00 302.47L205.00 302.44L206.00 302.42L207.00 302.41L208.00 302.39L209.00 302.37L210.00 302.35L211.00 302.34L212.00 302.32L213.00 302.31L214.00 302.29L215.00 302.28L216.00 302.27L217.00 302.26L218.00 302.25L219.00 302.24L220.00 302.23L221.00 302.22L222.00 302.21L223.00 302.21L224.00 302.20L225.00 302.20L226.00 302.19L227.00 302.19L228.00 302.19L229.00 302.18L230.00 302.18L231.00 302.18L232.00 302.18L233.00 302.19L234.00 302.19L235.00 302.19L236.00 302.20L237.00 302.20L238.00 302.21L239.00 302.21L240.00 302.22L241.00 302.23L242.00 302.24L243.00 302.25L244.00 302.26L245.00 302.27L246.00 302.28L247.00 302.30L248.00 302.31L249.00 302.33L250.00 302.34L251.00 302.36L252.00 302.37L253.00 302.39L254.00 302.41L255.00 302.43L256.00 302.45L257.00 302.47L258.00 302.49L259.00 302.51L260.00 302.53L261.00 302.55L262.00 302.58L263.00 302.60L264.00 302.62L265.00 302.64L266.00 302.67L267.00 302.69L268.00 302.72L269.00 302.74L270.00 302.76L271.00 302.79L272.00 302.81L273.00 302.84L274.00 302.86L275.00 302.88L276.00 302.90L277.00 302.92L278.00 302.94L279.00 302.96L280.00 302.98L281.00 302.99L282.00 303.01L283.00 303.02L284.00 303.03L285.00 303.03L286.00 303.04L287.00 303.04L288.00 303.03L289.00 303.02L290.00 303.01L291.00 302.99L292.00 302.96L293.00 302.92L294.00 302.88L295.00 302.83L296.00 302.76L297.00 302.69L298.00 302.60L299.00 302.49L300.00 302.36L301.00 302.21L302.00 302.04L303.00 301.84L304.00 301.60L305.00 301.32L306.00 301.00L307.00 300.62L308.00 300.17L309.00 299.63L310.00 299.00L311.00 298.25L312.00 297.35L313.00 296.26L314.00 294.93L315.00 293.32L316.00 291.34L317.00 288.92L318.00 285.99L319.00 282.52L320.00 278.57L321.00 274.31L322.00 270.03L323.00 266.03L324.00 262.49L325.00 259.49L326.00 257.02L327.00 255.00L328.00 253.37L329.00 252.04L330.00 250.96L331.00 250.08L332.00 249.36L333.00 248.78L334.00 248.30L335.00 247.91L336.00 247.59L337.00 247.34L338.00 247.14L339.00 246.99L340.00 246.88L341.00 246.81L342.00 246.77L343.00 246.75L344.00 246.76L345.00 246.79L346.00 246.84L347.00 246.91L348.00 247.00L349.00 247.10L350.00 247.22L351.00 247.35L352.00 247.50L353.00 247.65L354.00 247.82L355.00 248.00L356.00 248.19L357.00 248.39L358.00 248.60L359.00 248.82L360.00 249.05L361.00 249.29L362.00 249.54L363.00 249.80L364.00 250.07L365.00 250.35L366.00 250.63L367.00 250.93L368.00 251.23L369.00 251.54L370.00 251.86L371.00 252.20L372.00 252.54L373.00 252.89L374.00 253.25L375.00 253.62L376.00 254.00L377.00 254.40L378.00 254.80L379.00 255.21L380.00 255.64L381.00 256.08L382.00 256.53L383.00 256.99L384.00 257.47L385.00 257.95L386.00 258.46L387.00 258.98L388.00 259.51L389.00 260.06L390.00 260.63L391.00 261.22L392.00 261.82L393.00 262.44L394.00 263.09L395.00 263.76L396.00 264.45L397.00 265.16L398.00 265.91L399.00 266.67L400.00 267.47L401.00 268.30L402.00 269.17L403.00 270.06L404.00 271.00L405.00 271.97L406.00 272.99L407.00 274.06L408.00 275.17L409.00 276.33L410.00 277.55L411.00 278.83L412.00 280.17L413.00 281.58L414.00 283.05L415.00 284.60L416.00 286.22L417.00 287.91L418.00 289.68L419.00 291.51L420.00 293.42L421.00 295.38L422.00 297.40L423.00 299.45L424.00 301.53L425.00 303.62L426.00 305.72L427.00 307.79L428.00 309.84L429.00 311.84L430.00 313.80L431.00 315.70L432.00 317.54L433.00 319.31L434.00 321.02L435.00 322.67L436.00 324.25L437.00 325.77L438.00 327.23L439.00 328.64L440.00 330.00L441.00 331.31L442.00 332.58L443.00 333.80L444.00 334.99L445.00 336.15L446.00 337.28L447.00 338.37L448.00 339.44L449.00 340.49L450.00 341.52L451.00 342.52L452.00 343.51L453.00 344.48L454.00 345.44L455.00 346.38L456.00 347.32L457.00 348.24L458.00 349.15L459.00 350.05L460.00 350.94L461.00 351.82L462.00 352.70L463.00 353.57L464.00 354.43L465.00 355.29L466.00 356.15L467.00 357.00L468.00 357.85L469.00 358.69L470.00 359.53L471.00 360.37L472.00 361.20L473.00 362.03L474.00 362.87L475.00 363.69L476.00 364.52L477.00 365.35L478.00 366.17L479.00 367.00L480.00 367.82L481.00 368.64L482.00 369.46L483.00 370.29L484.00 371.11L485.00 371.93L486.00 372.75L487.00 373.57L488.00 374.39L489.00 375.21" fill="none" stroke="#fff" stroke-width="3.00" stroke-linejoin="round" clip-path="url(#cb)"/>
<path d="M44.00 313.32L45.00 313.20L46.00 313.09L47.00 312.98L48.00 312.87L49.00 312.75L50.00 312.64L51.00 312.53L52.00 312.43L53.00 312.32L54.00 312.21L55.00 312.10L56.00 312.00L57.00 311.89L58.00 311.79L59.00 311.68L60.00 311.58L61.00 311.47L62.00 311.37L63.00 311.27L64.00 311.17L65.00 311.07L66.00 310.97L67.00 310.87L68.00 310.77L69.00 310.67L70.00 310.58L71.00 310.48L72.00 310.39L73.00 310.29L74.00 310.19L75.00 310.10L76.00 310.01L77.00 309.91L78.00 309.82L79.00 309.73L80.00 309.64L81.00 309.55L82.00 309.46L83.00 309.37L84.00 309.28L85.00 309.19L86.00 309.10L87.00 309.02L88.00 308.93L89.00 308.84L90.00 308.76L91.00 308.67L92.00 308.59L93.00 308.50L94.00 308.42L95.00 308.34L96.00 308.26L97.00 308.17L98.00 308.09L99.00 308.01L100.00 307.93L101.00 307.85L102.00 307.77L103.00 307.69L104.00 307.62L105.00 307.54L106.00 307.46L107.00 307.38L108.00 307.31L109.00 307.23L110.00 307.16L111.00 307.08L112.00 307.01L113.00 306.93L114.00 306.86L115.00 306.79L116.00 306.72L117.00 306.64L118.00 306.57L119.00 306.50L120.00 306.43L121.00 306.36L122.00 306.29L123.00 306.22L124.00 306.16L125.00 306.09L126.00 306.02L127.00 305.96L128.00 305.89L129.00 305.82L130.00 305.76L131.00 305.69L132.00 305.63L133.00 305.57L134.00 305.50L135.00 305.44L136.00 305.38L137.00 305.32L138.00 305.25L139.00 305.19L140.00 305.13L141.00 305.07L142.00 305.01L143.00 304.96L144.00 304.90L145.00 304.84L146.00 304.78L147.00 304.73L148.00 304.67L149.00 304.62L150.00 304.56L151.00 304.51L152.00 304.45L153.00 304.40L154.00 304.35L155.00 304.29L156.00 304.24L157.00 304.19L158.00 304.14L159.00 304.09L160.00 304.04L161.00 303.99L162.00 303.94L163.00 303.90L164.00 303.85L165.00 303.80L166.00 303.76L167.00 303.71L168.00 303.66L169.00 303.62L170.00 303.58L171.00 303.53L172.00 303.49L173.00 303.45L174.00 303.41L175.00 303.37L176.00 303.33L177.00 303.29L178.00 303.25L179.00 303.21L180.00 303.17L181.00 303.13L182.00 303.10L183.00 303.06L184.00 303.03L185.00 302.99L186.00 302.96L187.00 302.93L188.00 302.89L189.00 302.86L190.00 302.83L191.00 302.80L192.00 302.77L193.00 302.74L194.00 302.71L195.00 302.68L196.00 302.66L197.00 302.63L198.00 302.60L199.00 302.58L200.00 302.56L201.00 302.53L202.00 302.51L203.00 302.49L204.00 302.47L205.00 302.44L206.00 302.42L207.00 302.41L208.00 302.39L209.00 302.37L210.00 302.35L211.00 302.34L212.00 302.32L213.00 302.31L214.00 302.29L215.00 302.28L216.00 302.27L217.00 302.26L218.00 302.25L219.00 302.24L220.00 302.23L221.00 302.22L222.00 302.21L223.00 302.21L224.00 302.20L225.00 302.20L226.00 302.19L227.00 302.19L228.00 302.19L229.00 302.18L230.00 302.18L231.00 302.18L232.00 302.18L233.00 302.19L234.00 302.19L235.00 302.19L236.00 302.20L237.00 302.20L238.00 302.21L239.00 302.21L240.00 302.22L241.00 302.23L242.00 302.24L243.00 302.25L244.00 302.26L245.00 302.27L246.00 302.28L247.00 302.30L248.00 302.31L249.00 302.33L250.00 302.34L251.00 302.36L252.00 302.37L253.00 302.39L254.00 302.41L255.00 302.43L256.00 302.45L257.00 302.47L258.00 302.49L259.00 302.51L260.00 302.53L261.00 302.55L262.00 302.58L263.00 302.60L264.00 302.62L265.00 302.64L266.00 302.67L267.00 302.69L268.00 302.72L269.00 302.74L270.00 302.76L271.00 302.79L272.00 302.81L273.00 302.84L274.00 302.86L275.00 302.88L276.00 302.90L277.00 302.92L278.00 302.94L279.00 302.96L280.00 302.98L281.00 302.99L282.00 303.01L283.00 303.02L284.00 303.03L285.00 303.03L286.00 303.04L287.00 303.04L288.00 303.03L289.00 303.02L290.00 303.01L291.00 302.99L292.00 302.96L293.00 302.92L294.00 302.88L295.00 302.83L296.00 302.76L297.00 302.69L298.00 302.60L299.00 302.49L300.00 302.36L301.00 302.21L302.00 302.04L303.00 301.84L304.00 301.60L305.00 301.32L306.00 301.00L307.00 300.62L308.00 300.17L309.00 299.63L310.00 299.00L311.00 298.25L312.00 297.35L313.00 296.26L314.00 294.93L315.00 293.32L316.00 291.34L317.00 288.92L318.00 285.99L319.00 282.52L320.00 278.57L321.00 274.31L322.00 270.03L323.00 266.03L324.00 262.49L325.00 259.49L326.00 257.02L327.00 255.00L328.00 253.37L329.00 252.04L330.00 250.96L331.00 250.08L332.00 249.36L333.00 248.78L334.00 248.30L335.00 247.91L336.00 247.59L337.00 247.34L338.00 247.14L339.00 246.99L340.00 246.88L341.00 246.81L342.00 246.77L343.00 246.75L344.00 246.76L345.00 246.79L346.00 246.84L347.00 246.91L348.00 247.00L349.00 247.10L350.00 247.22L351.00 247.35L352.00 247.50L353.00 247.65L354.00 247.82L355.00 248.00L356.00 248.19L357.00 248.39L358.00 248.60L359.00 248.82L360.00 249.05L361.00 249.29L362.00 249.54L363.00 249.80L364.00 250.07L365.00 250.35L366.00 250.63L367.00 250.93L368.00 251.23L369.00 251.54L370.00 251.86L371.00 252.20L372.00 252.54L373.00 252.89L374.00 253.25L375.00 253.62L376.00 254.00L377.00 254.40L378.00 254.80L379.00 255.21L380.00 255.64L381.00 256.08L382.00 256.53L383.00 256.99L384.00 257.47L385.00 257.95L386.00 258.46L387.00 258.98L388.00 259.51L389.00 260.06L390.00 260.63L391.00 261.22L392.00 261.82L393.00 262.44L394.00 263.09L395.00 263.76L396.00 264.45L397.00 265.16L398.00 265.91L399.00 266.67L400.00 267.47L401.00 268.30L402.00 269.17L403.00 270.06L404.00 271.00L405.00 271.97L406.00 272.99L407.00 274.06L408.00 275.17L409.00 276.33L410.00 277.55L411.00 278.83L412.00 280.17L413.00 281.58L414.00 283.05L415.00 284.60L416.00 286.22L417.00 287.91L418.00 289.68L419.00 291.51L420.00 293.42L421.00 295.38L422.00 297.40L423.00 299.45L424.00 301.53L425.00 303.62L426.00 305.72L427.00 307.79L428.00 309.84L429.00 311.84L430.00 313.80L431.00 315.70L432.00 317.54L433.00 319.31L434.00 321.02L435.00 322.67L436.00 324.25L437.00 325.77L438.00 327.23L439.00 328.64L440.00 330.00L441.00 331.31L442.00 332.58L443.00 333.80L444.00 334.99L445.00 336.15L446.00 337.28L447.00 338.37L448.00 339.44L449.00 340.49L450.00 341.52L451.00 342.52L452.00 343.51L453.00 344.48L454.00 345.44L455.00 346.38L456.00 347.32L457.00 348.24L458.00 349.15L459.00 350.05L460.00 350.94L461.00 351.82L462.00 352.70L463.00 353.57L464.00 354.43L465.00 355.29L466.00 356.15L467.00 357.00L468.00 357.85L469.00 358.69L470.00 359.53L471.00 360.37L472.00 361.20L473.00 362.03L474.00 362.87L475.00 363.69L476.00 364.52L477.00 365.35L478.00 366.17L479.00 367.00L480.00 367.82L481.00 368.64L482.00 369.46L483.00 370.29L484.00 371.11L485.00 371.93L486.00 372.75L487.00 373.57L488.00 374.39L489.00 375.21" fill="none" stroke="#EDB120" stroke-width="1.90" stroke-linejoin="round" clip-path="url(#cb)"/>
<rect x="47.20" y="33.40" width="494.50" height="150.90" fill="none" stroke="#333333" stroke-width="0.95"/>
<path d="M121.63 33.40v2.4M121.63 184.30v-2.4" stroke="#333333" stroke-width="0.8" fill="none"/>
<path d="M165.17 33.40v2.4M165.17 184.30v-2.4" stroke="#333333" stroke-width="0.8" fill="none"/>
<path d="M196.06 33.40v2.4M196.06 184.30v-2.4" stroke="#333333" stroke-width="0.8" fill="none"/>
<path d="M220.02 33.40v2.4M220.02 184.30v-2.4" stroke="#333333" stroke-width="0.8" fill="none"/>
<path d="M239.60 33.40v2.4M239.60 184.30v-2.4" stroke="#333333" stroke-width="0.8" fill="none"/>
<path d="M256.15 33.40v2.4M256.15 184.30v-2.4" stroke="#333333" stroke-width="0.8" fill="none"/>
<path d="M270.49 33.40v2.4M270.49 184.30v-2.4" stroke="#333333" stroke-width="0.8" fill="none"/>
<path d="M283.14 33.40v2.4M283.14 184.30v-2.4" stroke="#333333" stroke-width="0.8" fill="none"/>
<path d="M368.88 33.40v2.4M368.88 184.30v-2.4" stroke="#333333" stroke-width="0.8" fill="none"/>
<path d="M412.42 33.40v2.4M412.42 184.30v-2.4" stroke="#333333" stroke-width="0.8" fill="none"/>
<path d="M443.31 33.40v2.4M443.31 184.30v-2.4" stroke="#333333" stroke-width="0.8" fill="none"/>
<path d="M467.27 33.40v2.4M467.27 184.30v-2.4" stroke="#333333" stroke-width="0.8" fill="none"/>
<path d="M486.85 33.40v2.4M486.85 184.30v-2.4" stroke="#333333" stroke-width="0.8" fill="none"/>
<path d="M503.40 33.40v2.4M503.40 184.30v-2.4" stroke="#333333" stroke-width="0.8" fill="none"/>
<path d="M517.74 33.40v2.4M517.74 184.30v-2.4" stroke="#333333" stroke-width="0.8" fill="none"/>
<path d="M530.39 33.40v2.4M530.39 184.30v-2.4" stroke="#333333" stroke-width="0.8" fill="none"/>
<path d="M294.45 33.40v5M294.45 184.30v-5" stroke="#333333" stroke-width="0.8" fill="none"/>
<path d="M47.20 83.70h4.8M541.70 83.70h-4.8" stroke="#333333" stroke-width="0.8" fill="none"/>
<path d="M47.20 134.00h4.8M541.70 134.00h-4.8" stroke="#333333" stroke-width="0.8" fill="none"/>
<rect x="46.60" y="211.45" width="494.70" height="150.85" fill="none" stroke="#333333" stroke-width="0.95"/>
<path d="M121.06 211.45v2.4M121.06 362.30v-2.4" stroke="#333333" stroke-width="0.8" fill="none"/>
<path d="M164.62 211.45v2.4M164.62 362.30v-2.4" stroke="#333333" stroke-width="0.8" fill="none"/>
<path d="M195.52 211.45v2.4M195.52 362.30v-2.4" stroke="#333333" stroke-width="0.8" fill="none"/>
<path d="M219.49 211.45v2.4M219.49 362.30v-2.4" stroke="#333333" stroke-width="0.8" fill="none"/>
<path d="M239.08 211.45v2.4M239.08 362.30v-2.4" stroke="#333333" stroke-width="0.8" fill="none"/>
<path d="M255.64 211.45v2.4M255.64 362.30v-2.4" stroke="#333333" stroke-width="0.8" fill="none"/>
<path d="M269.98 211.45v2.4M269.98 362.30v-2.4" stroke="#333333" stroke-width="0.8" fill="none"/>
<path d="M282.63 211.45v2.4M282.63 362.30v-2.4" stroke="#333333" stroke-width="0.8" fill="none"/>
<path d="M368.41 211.45v2.4M368.41 362.30v-2.4" stroke="#333333" stroke-width="0.8" fill="none"/>
<path d="M411.97 211.45v2.4M411.97 362.30v-2.4" stroke="#333333" stroke-width="0.8" fill="none"/>
<path d="M442.87 211.45v2.4M442.87 362.30v-2.4" stroke="#333333" stroke-width="0.8" fill="none"/>
<path d="M466.84 211.45v2.4M466.84 362.30v-2.4" stroke="#333333" stroke-width="0.8" fill="none"/>
<path d="M486.43 211.45v2.4M486.43 362.30v-2.4" stroke="#333333" stroke-width="0.8" fill="none"/>
<path d="M502.99 211.45v2.4M502.99 362.30v-2.4" stroke="#333333" stroke-width="0.8" fill="none"/>
<path d="M517.33 211.45v2.4M517.33 362.30v-2.4" stroke="#333333" stroke-width="0.8" fill="none"/>
<path d="M529.98 211.45v2.4M529.98 362.30v-2.4" stroke="#333333" stroke-width="0.8" fill="none"/>
<path d="M293.95 211.45v5M293.95 362.30v-5" stroke="#333333" stroke-width="0.8" fill="none"/>
<path d="M46.60 249.16h4.8M541.30 249.16h-4.8" stroke="#333333" stroke-width="0.8" fill="none"/>
<path d="M46.60 286.88h4.8M541.30 286.88h-4.8" stroke="#333333" stroke-width="0.8" fill="none"/>
<path d="M46.60 324.59h4.8M541.30 324.59h-4.8" stroke="#333333" stroke-width="0.8" fill="none"/>
<line x1="417" y1="197.8" x2="466.8" y2="197.8" stroke="#fff" stroke-width="3.4"/>
<line x1="416" y1="197.8" x2="466.8" y2="197.8" stroke="#8a8a8a" stroke-width="1.55"/>
<path d="M412.3 197.8L417.9 196.35L417.2 197.8L417.9 199.25Z" fill="#000"/>
<text x="44.30" y="37.80" font-size="12.30" text-anchor="end" class="tk">20</text>
<text x="44.30" y="87.40" font-size="12.30" text-anchor="end" class="tk">0</text>
<text x="44.30" y="137.70" font-size="12.30" text-anchor="end" class="tk">−20</text>
<text x="44.30" y="186.80" font-size="12.30" text-anchor="end" class="tk">−40</text>
<text x="44.30" y="218.05" font-size="12.30" text-anchor="end" class="tk">90</text>
<text x="44.30" y="252.86" font-size="12.30" text-anchor="end" class="tk">0</text>
<text x="44.30" y="290.57" font-size="12.30" text-anchor="end" class="tk">−90</text>
<text x="44.30" y="328.29" font-size="12.30" text-anchor="end" class="tk">−180</text>
<text x="44.30" y="364.00" font-size="12.30" text-anchor="end" class="tk">−270</text>
<text x="42.10" y="376.00" font-size="12.30" text-anchor="start" class="tk">10<tspan font-size="8.6" dy="-4.3">2</tspan></text>
<text x="285.00" y="376.00" font-size="12.30" text-anchor="start" class="tk">10<tspan font-size="8.6" dy="-4.3">3</tspan></text>
<text x="529.10" y="376.00" font-size="12.30" text-anchor="start" class="tk">10<tspan font-size="8.6" dy="-4.3">4</tspan></text>
<text x="293.30" y="391.20" font-size="12.30" text-anchor="middle" textLength="81.5" lengthAdjust="spacingAndGlyphs">Frequency (Hz)</text>
<text transform="translate(15.5 108.8) rotate(-90)" font-size="12" text-anchor="middle" textLength="86.6" lengthAdjust="spacingAndGlyphs">Magnitude (dB)</text>
<text transform="translate(15.5 288) rotate(-90)" font-size="12" text-anchor="middle" textLength="49.6" lengthAdjust="spacingAndGlyphs">Phase (°)</text>
<text transform="translate(472.8 201.6) scale(1.14 1)" font-size="15.5" font-style="italic">f</text>
<text x="479.4" y="203.6" font-size="10.2" textLength="5.8" lengthAdjust="spacingAndGlyphs">0</text>
<rect x="121.4" y="4.4" width="341.6" height="19.2" fill="#fff" stroke="#262626" stroke-width="0.85"/>
<line x1="127.40" y1="13.6" x2="152.00" y2="13.6" stroke="#0072BD" stroke-width="1.5"/>
<text x="155.90" y="17.6" font-size="13" font-style="italic">L</text>
<text x="163.60" y="19.6" font-size="9.2" textLength="6.3" lengthAdjust="spacingAndGlyphs" stroke-width="0">g</text>
<text x="175.80" y="17.6" font-size="12.3" textLength="10" lengthAdjust="spacingAndGlyphs">=</text>
<text x="189.60" y="17.6" font-size="12.3" textLength="6.40" lengthAdjust="spacingAndGlyphs">0</text>
<text x="201.40" y="17.6" font-size="12.3" textLength="14.2" lengthAdjust="spacingAndGlyphs">pu</text>
<line x1="230.40" y1="13.6" x2="254.60" y2="13.6" stroke="#D95319" stroke-width="1.5"/>
<text x="260.70" y="17.6" font-size="13" font-style="italic">L</text>
<text x="268.40" y="19.6" font-size="9.2" textLength="6.3" lengthAdjust="spacingAndGlyphs" stroke-width="0">g</text>
<text x="280.60" y="17.6" font-size="12.3" textLength="10" lengthAdjust="spacingAndGlyphs">=</text>
<text x="294.40" y="17.6" font-size="12.3" textLength="23.00" lengthAdjust="spacingAndGlyphs">0.01</text>
<text x="322.80" y="17.6" font-size="12.3" textLength="14.2" lengthAdjust="spacingAndGlyphs">pu</text>
<line x1="350.60" y1="13.6" x2="374.40" y2="13.6" stroke="#EDB120" stroke-width="1.5"/>
<text x="380.10" y="17.6" font-size="13" font-style="italic">L</text>
<text x="387.80" y="19.6" font-size="9.2" textLength="6.3" lengthAdjust="spacingAndGlyphs" stroke-width="0">g</text>
<text x="400.00" y="17.6" font-size="12.3" textLength="10" lengthAdjust="spacingAndGlyphs">=</text>
<text x="413.80" y="17.6" font-size="12.3" textLength="23.00" lengthAdjust="spacingAndGlyphs">0.05</text>
<text x="442.20" y="17.6" font-size="12.3" textLength="14.2" lengthAdjust="spacingAndGlyphs">pu</text>
</svg></body></html>
